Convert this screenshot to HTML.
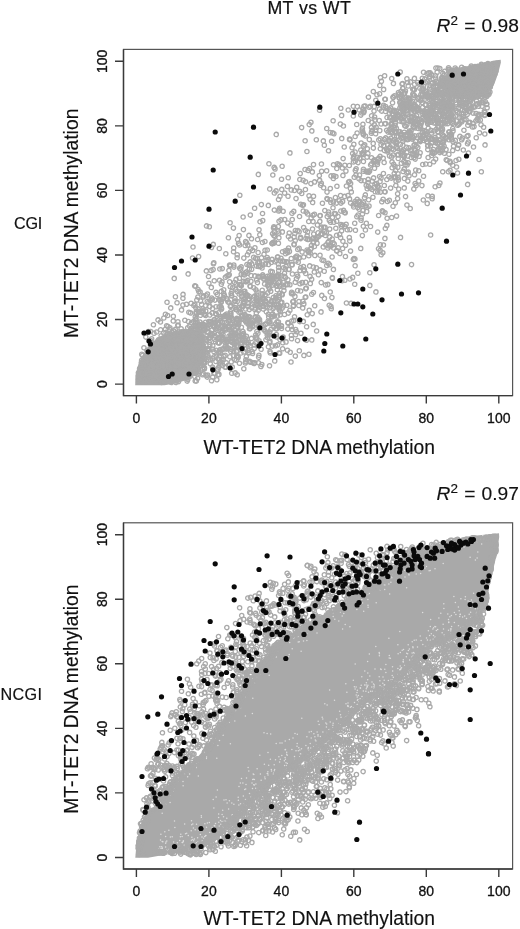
<!DOCTYPE html>
<html><head><meta charset="utf-8"><title>MT vs WT</title>
<style>
html,body{margin:0;padding:0;background:#fff}
svg{display:block;filter:blur(0.45px)}
text{font-family:"Liberation Sans",sans-serif;fill:#111}
.tk{font-size:14px;stroke:#111;stroke-width:0.3px}
.ax{font-size:19.3px;stroke:#111;stroke-width:0.15px}
.lab{font-size:16.2px;stroke:#111;stroke-width:0.2px}
.r2{font-size:19.2px;stroke:#111;stroke-width:0.15px}
.g{fill:none;stroke:none;marker-start:url(#mg);marker-mid:url(#mg);marker-end:url(#mg)}
.b{fill:none;stroke:none;marker-start:url(#mb);marker-mid:url(#mb);marker-end:url(#mb)}
.w{fill:none;stroke:none;marker-start:url(#mw);marker-mid:url(#mw);marker-end:url(#mw)}
.s{fill:#a9a9a9;stroke:none}
</style></head><body>
<svg width="520" height="929" viewBox="0 0 520 929">
<rect width="520" height="929" fill="#fff"/>
<marker id="mg" markerUnits="userSpaceOnUse" markerWidth="8" markerHeight="8" refX="4" refY="4" viewBox="0 0 8 8" overflow="visible"><circle cx="4" cy="4" r="2.15" fill="none" stroke="#a9a9a9" stroke-width="1.3"/></marker>
<marker id="mw" markerUnits="userSpaceOnUse" markerWidth="8" markerHeight="8" refX="4" refY="4" viewBox="0 0 8 8" overflow="visible"><circle cx="4" cy="4" r="0.75" fill="#dedede"/></marker>
<marker id="mb" markerUnits="userSpaceOnUse" markerWidth="8" markerHeight="8" refX="4" refY="4" viewBox="0 0 8 8" overflow="visible"><circle cx="4" cy="4" r="2.6" fill="#0a0a0a"/></marker>
<text class="lab" x="267.4" y="13.8" style="font-size:17.8px;letter-spacing:0.4px">MT vs WT</text>
<text class="r2" y="32.2"><tspan x="436.6" font-style="italic">R</tspan><tspan dy="-6.8" font-size="13.5">2</tspan><tspan x="458.96" dy="6.8"> = </tspan><tspan x="481.6">0.98</tspan></text>
<text class="r2" y="499.8"><tspan x="436.6" font-style="italic">R</tspan><tspan dy="-6.8" font-size="13.5">2</tspan><tspan x="458.96" dy="6.8"> = </tspan><tspan x="481.6">0.97</tspan></text>
<text class="lab" x="14.1" y="229" style="letter-spacing:-0.3px">CGI</text>
<text class="lab" x="0.4" y="700" style="letter-spacing:0.35px">NCGI</text>
<text class="ax" transform="translate(77.8 223.3) rotate(-90)" text-anchor="middle">MT-TET2 DNA methylation</text>
<text class="ax" transform="translate(77.8 699.2) rotate(-90)" text-anchor="middle">MT-TET2 DNA methylation</text>
<text class="ax" x="319.2" y="453.7" text-anchor="middle">WT-TET2 DNA methylation</text>
<text class="ax" x="319.3" y="925" text-anchor="middle">WT-TET2 DNA methylation</text>
<!-- top plot -->
<polygon class="s" points="135.2,385.3 135.4,375.4 138.5,363.8 142.3,356.2 147.2,348.5 152.9,341.7 158.7,336.9 166.4,333.5 176.0,331.0 189.5,329.2 199.0,331.0 203.5,338.8 207.0,348.5 203.5,360.0 199.5,367.7 193.8,375.4 184.2,380.7 174.0,383.8 164.5,385.3"/>
<polygon class="s" points="500.7,59.8 494.4,60.6 487.0,62.6 477.3,64.5 467.7,66.5 458.0,68.5 448.5,70.4 446.5,77.0 448.5,84.6 454.2,90.4 460.0,96.2 467.7,100.0 475.4,98.5 483.0,95.0 489.0,91.0 493.5,86.0 495.8,80.0 498.5,71.9 500.9,62.5"/>
<polyline class="g" points="491.8,67.3 236.8,356.1 378.5,248.7 355.0,201.5 271.2,301.7 460.6,96.6 431.5,133.1 468.4,153.0 180.4,336.7 454.4,89.6 483.3,94.6 327.2,216.6 282.6,348.8 276.0,190.9 385.6,106.6 279.7,293.3 437.0,111.2 199.2,332.6 239.1,319.9 483.6,127.2 414.7,135.7 340.9,224.5 490.1,71.5 165.4,376.3 444.1,78.4 239.8,195.2 143.1,368.5 175.6,363.7 356.8,216.7 385.0,212.7 200.1,292.0 309.0,195.7 201.8,349.8 299.8,179.5 219.3,248.5 444.3,97.6 464.2,87.0 406.6,103.0 367.2,188.7 191.4,349.5 169.5,352.6 222.1,339.3 244.8,291.3 481.9,81.5 392.5,102.7 454.8,89.9 439.3,139.9 248.1,350.2 410.6,132.6 478.7,94.0 245.0,318.0 192.5,258.1 459.2,100.5 369.3,139.6 242.6,315.7 289.2,233.0 463.6,95.3 183.8,359.3 282.1,166.3 359.9,204.8 424.1,100.0 192.7,344.8 371.5,163.8 422.6,93.9 286.2,261.9 259.6,265.2 449.9,73.6 394.4,119.2 190.8,360.1 317.4,224.9 305.9,238.6 332.2,239.1 230.2,286.7 374.1,187.4 365.4,136.0 296.8,256.0 176.9,376.3 321.0,311.9 206.0,375.2 227.3,341.3 452.1,105.3 460.8,71.5 452.6,94.5 403.5,105.6 335.5,213.8 305.8,297.0 261.3,204.6 238.5,324.9 201.6,304.4 288.9,269.4 344.6,196.4 250.3,286.5 286.0,284.7 453.9,73.4 190.8,352.9 278.2,274.2 370.2,188.1 379.6,93.8 239.9,336.5 256.7,339.1 273.9,281.7 444.0,140.8 211.6,298.1 292.8,301.8 149.9,352.3 188.8,312.2 426.2,114.4 486.3,68.7 456.4,121.0 303.9,270.9 157.6,357.4 449.4,112.7 190.4,312.9 190.5,334.1 406.3,103.5 472.9,75.7 251.6,269.3 243.4,305.2 288.1,323.3 402.6,151.9 473.4,107.1 413.7,89.4 172.4,351.6 434.7,103.2 450.8,88.6 314.8,255.4 442.3,150.9 377.3,164.5 465.1,72.9 208.1,332.4 228.0,302.0 250.3,215.1 418.1,98.7 374.5,168.2 389.4,141.8 412.7,89.2 363.4,161.4 365.4,230.0 300.0,270.4 471.0,79.0 451.4,105.9 403.1,117.7 159.2,372.5 219.7,329.1 269.7,280.3 235.5,289.4 368.0,182.5 349.5,139.6 457.5,92.2 332.4,217.5 269.5,365.7 332.5,132.9 435.6,159.1 403.8,161.4 432.8,152.9 438.1,142.7 442.9,85.9 183.0,294.4 425.5,91.0 174.9,348.0 223.6,293.3 177.1,352.8 451.1,94.0 423.5,72.3 355.2,161.3 437.0,94.7 459.3,78.0 463.6,84.4 273.5,228.0 434.0,91.9 220.4,316.6 189.8,340.0 422.3,132.2 239.1,339.0 457.5,148.4 152.0,354.4 259.7,322.1 179.5,373.4 152.5,358.0 214.7,373.4 309.2,124.6 164.4,372.2 473.7,78.0 302.4,205.3 368.1,179.4 404.7,92.9 406.9,134.4 268.2,278.3 172.8,368.0 476.8,104.2 267.3,280.1 481.7,71.0 418.9,135.3 158.3,359.0 169.8,380.9 294.9,296.4 439.7,152.6 397.8,167.3 211.0,270.4 311.7,294.3 204.4,359.0 160.9,368.0 232.2,367.0 456.7,93.3 368.4,97.1 490.7,74.9 434.7,92.2 465.0,83.3 333.4,202.0 275.6,328.7 404.7,125.8 422.3,135.8 343.4,126.0 308.9,354.3 437.8,122.9 212.6,308.4 173.3,316.2 370.5,226.5 323.6,187.8 196.9,339.3 465.9,108.3 313.4,267.1 170.9,351.6 325.3,235.4 296.0,198.6 418.3,108.6 236.6,309.8 367.9,153.6 467.8,125.2 456.7,78.7 423.4,88.8 398.7,189.0 300.6,291.0 173.2,365.6 196.0,351.8 464.7,68.9 226.9,342.3 237.6,327.6 163.5,355.2 330.8,202.5 182.9,298.2 454.2,94.5 431.2,110.9 200.9,343.6 195.0,333.3 187.2,344.6 399.4,94.0 244.9,314.5 483.9,92.3 448.6,94.8 166.6,325.7 331.2,245.7 246.9,294.7 194.7,371.4 292.4,274.0 287.6,252.4 270.7,291.2 390.9,123.9 177.3,344.6 313.3,242.6 326.6,170.8 426.0,116.4 451.8,139.8 250.1,261.9 455.7,90.6 435.5,75.8 243.7,351.9 364.5,197.8 280.9,219.9 434.9,104.8 449.1,92.1 217.9,369.7 402.6,83.6 342.6,248.5 434.6,152.6 430.5,122.3 192.7,336.0 211.4,247.4 231.7,335.5 178.2,347.4 263.3,306.5 395.3,133.0 459.9,80.6 443.1,85.9 478.1,80.7 249.3,269.1 426.1,139.2 173.2,320.9 453.3,76.4 165.9,346.1 374.9,119.9 401.2,108.1 177.8,325.2 363.4,154.4 306.3,340.2 470.0,108.6 452.8,98.9 268.9,163.7 377.7,232.1 417.3,98.0 278.5,199.5 442.8,83.1 175.2,346.3 282.4,337.7 237.0,326.7 437.8,131.6 153.4,324.7 375.9,291.9 447.4,108.7 393.4,149.8 291.9,213.3 158.1,354.4 385.6,137.9 165.2,339.4 432.3,138.7 200.9,325.2 281.1,275.9 459.0,99.4 200.9,345.3 234.3,343.3 414.9,127.9 359.5,175.1 163.4,365.3 309.2,310.2 467.2,69.1 380.0,156.4 206.5,225.9 340.3,124.1 194.0,338.9 440.8,82.8 206.9,335.5 268.3,299.2 150.6,331.5 195.7,286.3 415.6,124.1 346.4,303.0 262.0,296.1 459.5,123.6 277.0,321.7 413.4,106.7 293.2,306.3 394.8,111.4 362.7,131.8 231.8,318.0 212.4,334.3 485.5,67.0 399.5,120.9 179.8,349.2 389.6,129.6 421.9,91.8 409.3,131.1 262.3,293.9 373.2,143.4 150.6,373.7 250.9,281.3 363.9,106.3 378.7,140.1 249.2,309.6 246.5,242.7 207.1,328.8 248.9,353.0 196.7,362.1 265.2,294.7 375.2,191.7 180.8,341.1 283.9,290.4 475.6,94.6 289.0,269.3 278.3,226.6 462.0,116.8 259.4,261.8 241.3,343.8 485.1,88.2 413.3,95.0 202.8,324.4 293.7,320.4 481.3,171.7 469.3,105.7 441.8,110.2 472.8,113.1 210.4,322.8 288.0,196.2 269.7,333.1 405.1,164.8 450.6,133.9 374.5,159.8 385.6,123.6 431.8,83.6 208.8,321.5 263.3,276.8 465.5,112.4 254.2,348.6 195.2,316.7 203.2,296.9 462.6,74.7 178.3,380.0 143.9,347.8 452.0,86.0 293.6,305.4 342.7,225.1 271.4,316.8 336.7,251.1 406.6,147.3 381.0,177.9 279.2,310.0 199.5,324.9 419.7,140.4 475.8,121.0 203.5,295.9 314.3,272.0 445.0,111.0 401.3,163.2 486.6,96.3 462.4,109.8 168.8,361.9 259.0,229.8 327.0,192.1 207.4,294.1 342.6,201.4 406.9,205.1 395.0,166.5 419.1,156.3 438.1,131.7 278.9,237.7 160.6,329.7 416.1,185.4 236.5,322.2 402.7,110.8 277.3,276.5 358.4,201.8 173.6,358.1 411.3,117.4 400.5,144.3 408.2,139.2 488.0,93.5 247.2,295.4 160.2,369.7 252.1,351.6 371.3,133.2 223.7,289.8 203.3,351.7 241.3,316.8 248.5,299.1 404.2,187.9 295.6,329.6 403.9,113.4 430.0,112.8 184.9,361.5 278.4,264.0 275.0,168.9 299.3,350.8 245.2,362.9 333.7,175.7 383.5,105.2 450.7,106.8 425.8,120.0 299.5,216.5 277.2,275.5 233.4,228.1 228.2,275.6 488.6,91.6 259.0,340.7 312.3,171.9 311.0,248.6 446.2,107.1 254.9,320.6 333.0,242.8 457.4,95.2 431.7,96.4 380.3,148.8 387.1,218.2 449.1,117.6 437.3,90.3 374.2,106.4 482.7,79.5 210.5,300.4 280.8,302.6 380.3,244.7 179.7,345.5 362.9,124.2 321.2,282.6 398.1,177.4 333.9,133.8 310.3,283.4 443.2,142.2 408.2,132.7 164.9,356.7 473.0,89.6 194.5,373.3 413.9,154.8 188.6,341.0 348.6,182.0 446.2,159.7 413.4,137.8 363.6,202.8 368.6,199.7 473.4,93.0 273.9,307.1 465.8,99.7 230.3,341.3 236.0,284.1 397.4,154.8 283.1,211.2 349.7,139.1 261.1,349.2 252.2,320.6 431.2,139.1 169.6,365.7 202.4,330.8 141.4,377.8 459.4,112.9 361.1,143.0 428.6,72.9 484.8,93.9 452.2,101.5 167.0,302.2 327.9,242.6 359.9,157.9 233.8,267.1 167.6,315.5 391.7,78.5 386.6,130.3 441.1,142.1 357.3,157.2 197.6,378.2 158.3,370.2 398.8,131.6 316.5,238.7 452.5,82.3 246.4,336.3 445.3,137.6 397.5,148.6 441.9,113.5 489.7,75.2 433.6,97.9 203.6,324.6 419.0,97.3 250.1,328.4 225.8,253.8 445.1,84.4 383.6,89.4 445.4,79.0 320.0,255.2 449.8,100.9 426.2,134.0 476.5,101.0 331.2,308.8 354.7,284.3 198.3,331.4 457.3,95.0 449.9,161.3 188.2,340.6 396.2,118.4 324.2,271.2 255.6,317.4 209.1,349.9 337.4,163.8 414.3,111.4 292.0,265.0 425.7,104.9 166.0,332.4 212.1,312.9 432.3,152.2 396.0,131.4 393.4,83.4 464.1,119.5 154.4,378.0 200.7,342.1 209.2,342.2 452.0,97.0 229.0,326.4 391.4,156.9 236.6,319.6 442.0,77.2 340.5,195.6 304.4,269.8 469.8,68.4 460.5,83.6 232.1,341.2 319.8,221.4 278.1,231.1 313.0,221.6 307.6,239.4 471.3,67.2 402.8,141.3 384.2,139.4 230.8,305.4 245.1,245.4 466.0,73.8 207.2,301.5 440.7,129.0 252.6,250.4 433.6,149.5 410.3,110.0 215.7,313.6 171.8,350.2 452.9,107.2 458.6,144.9 314.7,305.7 303.2,211.0 169.4,367.1 215.9,306.7 272.3,271.9 247.8,306.4 456.3,90.2 166.2,354.8 206.2,352.8 248.9,235.4 248.2,342.6 383.4,245.0 272.6,233.8 274.4,315.9 187.8,373.3 225.8,329.9 202.8,356.8 246.3,356.6 328.9,245.9 327.9,247.9 377.7,191.9 412.7,101.3 282.2,307.9 249.4,299.1 235.1,307.6 240.5,343.5 222.6,339.3 295.2,240.5 394.5,95.8 188.1,273.9 246.7,296.0 243.7,335.1 395.3,202.8 231.9,342.6 466.4,104.4 179.0,360.6 269.1,282.0 421.0,123.5 447.1,119.6 415.0,155.2 189.8,357.7 241.7,296.6 476.2,137.7 176.0,368.7 376.1,127.2 477.1,119.2 188.5,368.7 464.8,79.3 335.8,228.3 392.1,120.1 395.3,116.5 219.3,342.7 390.6,117.4 159.8,357.7 192.8,354.8 276.6,325.5 458.4,145.0 408.7,107.4 280.0,339.8 459.6,96.5 151.6,338.8 482.0,106.2 221.3,284.3 227.8,316.3 315.0,238.9 418.4,122.5 459.0,92.4 445.3,117.0 270.7,271.4 230.6,335.7 220.6,353.1 205.7,311.1 181.4,354.9 279.9,281.3 424.8,78.9 334.3,213.6 369.0,206.1 254.7,296.1 378.6,215.5 297.6,290.6 210.6,359.8 187.5,334.4 207.8,349.6 466.0,119.6 233.7,248.0 409.9,133.7 377.7,161.7 232.8,322.8 221.0,302.5 212.9,369.0 429.5,99.5 174.8,342.2 217.2,294.5 455.6,88.6 405.2,134.7 384.6,75.8 290.5,239.0 219.8,318.6 437.4,85.9 308.3,251.8 289.4,251.4 484.9,95.2 428.1,157.5 265.3,324.4 353.4,162.0 405.1,104.8 270.3,353.0 299.6,191.4 353.7,207.0 249.5,361.4 177.9,359.9 171.0,339.6 181.3,331.9 445.2,107.3 181.1,328.8 404.3,132.2 436.1,104.4 217.9,375.0 223.0,349.0 393.1,97.6 336.3,203.1 254.6,208.3 229.3,329.2 305.2,297.3 457.0,91.7 357.4,106.6 438.2,136.2 274.1,278.5 183.6,346.7 260.1,325.7 295.3,356.1 367.3,148.7 214.0,320.1 433.1,106.4 435.5,94.7 225.9,348.9 373.5,160.9 195.5,319.8 194.7,285.9 202.2,359.1 182.9,363.7 213.5,326.4 339.5,165.0 160.2,361.1 430.3,111.5 333.5,248.0 316.3,267.8 219.3,362.7 309.0,239.3 242.0,319.1 242.9,331.5 322.0,260.1 193.8,305.6 447.8,109.6 400.9,152.9 435.5,106.0 198.6,256.6 198.6,371.4 474.7,107.0 211.5,380.7 438.6,122.5 450.2,100.4 450.6,115.2 161.0,362.9 247.8,273.2 328.5,150.7 225.1,367.2 472.3,126.9 234.9,298.5 277.4,276.7 448.8,132.1 200.6,301.1 451.8,86.9 242.2,340.5 403.6,108.2 420.5,139.8 165.4,314.3 477.9,115.0 485.2,101.6 414.0,145.0 472.6,94.8 467.6,86.8 258.3,319.2 244.0,302.6 447.5,121.1 349.5,198.9 427.7,116.1 197.4,327.4 236.0,279.4 307.0,250.1 186.9,361.9 188.9,376.1 388.5,140.3 391.8,123.4 418.7,181.1 154.1,371.9 329.2,305.2 440.2,151.1 355.2,203.6 375.6,133.8 330.7,245.9 363.7,112.4 313.5,238.3 146.6,360.8 448.2,102.3 237.9,332.7 433.6,161.8 250.1,321.6 420.1,141.6 475.6,70.4 406.8,99.6 229.8,356.8 403.1,134.9 363.5,152.1 455.3,116.1 442.9,147.8 284.7,219.6 239.5,309.7 214.7,322.4 414.5,174.8 189.5,367.7 381.1,254.8 307.6,213.9 160.3,349.0 281.8,302.3 231.9,337.7 451.7,114.6 235.8,333.3 431.5,155.5 223.9,356.6 386.7,149.7 405.4,91.0 245.6,309.0 235.9,305.3 253.9,344.9 465.5,90.2 452.5,97.4 225.3,277.3 196.1,318.5 376.9,94.8 434.0,153.1 311.7,339.9 293.5,301.3 241.7,344.7 413.9,157.4 408.2,172.1 385.3,99.3 221.4,308.9 423.5,176.2 245.1,293.6 328.7,241.4 421.9,99.2 177.0,356.2 196.2,332.8 197.9,297.1 442.6,95.2 157.1,356.5 236.7,318.4 403.8,93.6 463.3,75.7 193.2,337.5 400.5,237.4 450.2,89.6 204.6,338.0 418.7,108.9 303.9,355.4 456.2,110.4 233.4,326.7 218.1,337.8 404.2,169.0 203.7,362.5 463.3,150.0 393.9,111.4 215.9,292.4 233.7,355.4 422.4,102.5 270.9,329.5 289.9,284.7 197.9,335.9 458.6,124.4 381.5,111.1 374.9,184.0 311.4,245.4 318.4,274.8 274.4,305.1 450.5,76.4 295.3,230.5 221.9,316.7 437.8,91.5 470.1,87.6 248.8,325.0 373.3,91.6 208.9,337.8 241.2,274.3 489.4,64.9 324.7,231.5 438.7,185.5 267.2,257.6 182.0,337.5 429.4,114.5 188.3,365.9 235.2,301.1 320.0,215.7 437.0,95.6 205.5,322.3 442.7,111.1 446.0,90.7 414.8,144.4 252.1,362.5 259.5,319.6 478.1,120.3 489.4,68.4 263.8,278.7 475.8,95.3 464.6,86.5 427.2,141.6 356.7,124.5 287.9,322.6 411.5,264.6 193.8,337.4 469.9,87.2 440.4,110.6 210.8,333.4 249.2,296.2 313.5,164.6 484.4,77.2 457.5,173.0 205.6,338.9 306.9,151.5 302.7,307.9 267.4,285.3 226.2,362.8 481.0,124.7 420.1,152.8 165.5,370.3 174.2,369.8 298.2,262.3 218.6,367.2 442.9,106.6 437.5,92.3 395.8,185.4 237.1,291.4 479.6,94.5 426.7,108.8 178.5,360.9 416.5,115.8 215.9,361.4 340.8,108.3 257.8,262.7 481.8,77.3 408.5,103.7 375.4,130.1 277.8,257.1 489.9,92.1 443.0,80.5 393.6,140.9 292.0,329.4 234.4,325.7 251.7,307.8 221.7,326.8 181.5,367.1 413.8,188.9 455.1,68.0 161.9,376.9 256.6,280.0 187.1,381.1 300.7,204.3 182.5,376.5 279.6,208.3 428.1,122.3 264.6,284.0 230.6,311.7 384.8,99.2 388.0,132.1 430.1,105.0 231.7,373.3 332.4,278.2 236.4,351.1 480.2,84.5 215.3,341.4 237.0,355.9 327.0,198.5 257.4,282.6 285.5,253.7 154.7,362.4 281.3,325.8 427.0,93.9 254.8,275.9 442.0,100.8 401.2,138.1 484.8,134.0 439.8,68.6 250.5,249.0 390.6,188.1 341.4,226.4 220.6,321.1 189.4,369.9 347.2,229.7 333.1,120.8 317.0,243.2 221.1,299.5 172.0,354.7 301.7,193.5 212.8,345.8 262.7,265.0 479.5,132.7 148.1,352.8 274.7,284.1 436.3,109.4 349.8,139.8 276.6,286.1 221.5,308.7 423.3,200.0 312.5,229.0 425.8,96.0 372.4,181.2 467.7,101.9 191.0,303.2 219.0,352.4 472.1,94.0 174.2,351.5 441.0,97.5 229.6,281.8 267.5,337.8 240.9,353.0 353.6,158.1 435.6,86.2 272.0,314.7 377.5,185.9 241.4,327.3 293.7,211.4 362.4,128.3 278.6,282.6 378.5,159.0 166.7,361.3 276.7,328.8 426.9,120.7 296.4,257.8 435.1,90.5 234.6,301.2 476.4,90.9 416.0,118.8 170.6,353.3 152.7,356.5 234.4,282.6 241.6,335.1 200.4,365.0 461.9,89.8 349.3,237.6 481.3,97.1 164.3,340.8 222.2,268.6 436.0,129.4 161.1,374.5 415.1,150.0 230.6,265.5 366.1,171.4 434.2,115.1 426.9,81.2 311.1,217.9 195.4,325.2 488.5,74.8 413.2,126.3 212.5,358.5 214.0,322.0 432.2,142.5 419.8,88.3 262.9,297.7 473.9,95.5 213.1,269.6 410.7,108.4 435.8,97.4 178.5,358.5 187.0,340.6 146.8,371.7 177.0,302.8 414.1,104.5 490.3,87.0 459.9,117.5 273.9,327.0 227.5,339.5 203.8,329.9 281.9,285.0 442.5,129.8 187.5,356.8 477.7,96.3 363.4,134.7 324.3,145.2 408.3,109.3 291.2,189.9 452.1,109.1 191.0,340.6 444.5,122.6 394.8,131.7 472.9,80.1 319.5,110.3 233.5,251.8 165.9,349.0 259.0,262.5 438.7,127.4 198.7,373.1 394.9,142.5 272.9,276.2 455.2,83.5 378.4,158.4 421.3,84.2 312.9,215.2 272.5,285.1 481.2,75.9 478.9,114.4 352.6,153.5 443.9,116.4 471.6,85.3 461.4,79.8 396.7,136.2 245.4,349.0 182.9,305.0 314.5,181.9 283.5,267.7 287.6,262.0 371.5,157.8 321.4,164.0 473.5,147.0 254.9,247.7 476.7,73.0 140.3,373.0 148.3,331.5 168.0,364.7 173.7,341.1 214.3,333.3 153.9,333.3 379.4,108.9 179.3,342.8 444.4,111.0 462.5,96.7 213.8,262.7 398.4,154.8 400.2,72.1 423.5,86.2 402.7,115.6 295.6,334.8 281.9,294.0 407.5,139.6 151.7,342.7 279.7,286.2 173.5,376.3 185.1,372.4 486.0,92.1 290.2,352.2 193.6,358.9 265.9,339.7 362.5,214.0 296.8,274.3 267.4,276.3 369.8,285.4 444.0,75.1 422.7,164.5 441.4,92.4 246.4,342.7 287.3,250.4 350.5,251.1 229.0,327.5 387.7,144.8 404.0,156.4 417.0,111.1 289.9,310.3 429.4,114.4 215.7,322.2 333.0,207.8 412.8,94.0 464.8,93.2 448.2,84.6 476.0,113.5 450.3,162.8 176.6,355.8 404.7,155.3 194.6,369.3 198.0,289.6 410.6,121.5 450.7,116.6 184.7,371.9 444.3,80.4 447.5,92.0 240.7,269.2 242.0,299.0 479.4,95.5 231.2,349.5 433.1,113.4 438.5,123.4 402.8,88.6 267.1,332.8 229.6,265.1 453.5,146.2 364.7,144.9 459.9,88.4 363.3,171.2 148.1,376.0 355.3,170.4 464.9,107.4 185.9,364.8 175.8,380.9 267.5,292.9 265.4,263.9 141.7,354.2 474.7,94.9 299.1,231.8 467.4,94.9 277.4,316.1 324.8,210.6 442.2,113.9 467.5,143.8 395.1,125.2 269.8,307.7 325.6,284.9 228.2,321.2 414.0,127.1 446.8,86.3 360.8,150.1 238.5,243.4 414.4,95.5 214.2,280.7 308.8,255.7 220.0,331.4 453.0,130.9 454.3,82.5 349.9,229.6 296.4,278.7 400.4,118.0 218.8,338.2 209.3,226.8 274.1,300.6 210.3,363.7 392.0,161.9 171.7,373.7 408.6,98.5 204.1,314.1 278.6,267.4 205.5,315.4 236.7,351.6 233.1,320.0 262.7,305.9 435.1,186.8 307.5,231.9 195.6,328.5 245.6,321.5 427.3,117.8 208.8,324.5 474.6,81.6 264.0,279.2 267.2,335.1 457.0,89.0 465.5,102.4 451.5,134.5 330.2,292.0 379.8,130.6 446.2,138.2 448.9,154.2 328.2,263.2 241.6,292.8 440.0,110.8 206.8,340.6 243.8,291.5 265.1,331.2 254.8,309.6 483.5,75.8 404.5,116.6 411.7,149.5 309.6,265.9 411.1,130.8 434.3,139.8 334.2,244.1 208.5,276.5 151.9,365.0 209.3,306.4 194.6,353.5 333.4,269.4 279.8,306.4 461.9,80.2 258.3,174.4 393.6,164.2 485.5,80.6 463.2,116.5 344.8,280.2 197.8,361.1 191.1,330.8 200.7,339.2 170.4,350.6 429.8,76.5 385.3,228.5 203.0,308.7 298.9,301.5 338.8,164.5 361.0,220.2 373.5,177.9 225.1,355.2 225.8,328.5 382.8,252.7 193.5,321.4 230.8,316.1 437.8,127.1 272.3,316.7 215.2,336.3 437.1,119.8 281.5,179.2 196.3,342.7 303.8,303.9 250.2,362.2 249.4,323.2 217.9,324.3 197.0,371.1 194.8,304.2 484.9,112.4 239.6,268.3 282.2,294.8 428.9,95.0 239.0,322.4 178.5,363.1 188.0,353.5 425.6,104.5 162.5,381.4 222.0,281.9 420.7,100.4 159.4,365.1 239.1,293.9 225.3,315.1 468.0,135.6 231.5,295.2 441.3,107.5 342.4,276.6 168.9,352.9 346.1,224.2 373.8,160.4 427.6,123.8 403.1,121.8 480.9,96.2 355.1,265.7 285.5,277.6 451.3,74.3 231.0,331.4 240.8,285.1 296.4,331.7 237.2,374.7 446.0,82.0 385.5,111.4 399.1,98.1 452.7,89.7 415.1,183.6 239.5,287.8 268.3,205.4 242.4,335.1 437.6,82.8 468.1,72.9 487.3,77.3 380.5,77.6 435.1,137.4 223.4,348.7 279.2,297.5 383.1,211.8 470.3,73.5 263.3,299.1 465.3,107.8 325.0,227.4 174.6,354.0 219.8,269.0 310.1,199.2 158.0,319.9 258.1,252.5 200.1,365.8 316.3,139.8 468.8,92.5 479.5,89.9 278.7,270.4 265.8,304.7 431.4,142.9 162.5,365.6 360.7,115.1 278.4,243.2 288.5,248.0 266.1,260.2 450.0,170.3 437.3,104.0 152.0,351.2 223.0,334.6 294.0,244.7 201.1,362.9 320.2,215.5 219.2,307.0 222.2,365.4 460.1,95.5 248.8,252.0 300.5,237.3 376.5,163.0 345.5,245.3 268.0,259.6 464.6,87.0 175.4,296.7 152.0,364.5 243.3,274.2 256.1,337.0 202.0,355.8 399.5,98.1 175.4,358.7 313.7,234.1 474.0,126.6 430.0,72.7 402.8,88.3 440.6,146.0 407.6,82.5 173.2,345.1 426.4,109.4 239.5,245.0 197.9,343.3 200.8,338.8 251.7,263.9 423.0,112.2 485.1,94.6 156.5,369.7 204.8,325.6 236.8,338.8 168.4,365.3 456.0,160.5 449.5,99.5 459.7,102.6 300.8,267.5 218.9,374.4 162.4,372.7 237.9,320.1 260.6,301.8 390.2,132.1 346.4,186.0 279.1,299.5 162.5,364.9 235.9,341.4 200.9,342.2 245.1,315.7 268.6,287.0 323.7,260.6 228.9,270.5 201.0,325.4 401.3,118.5 451.7,115.8 221.2,291.4 209.9,344.6 214.3,339.3 441.6,99.0 172.1,377.8 436.0,114.2 278.4,322.1 435.7,123.2 148.0,358.5 189.0,350.8 442.8,142.3 185.3,342.7 224.2,315.9 198.8,348.8 256.4,266.1 456.7,89.4 394.6,139.5 416.7,109.4 444.9,94.6 262.0,298.8 320.1,269.9 271.9,300.6 452.9,110.0 195.2,380.9 454.4,85.2 343.5,210.4 195.2,337.9 406.0,114.0 239.1,235.5 321.6,171.2 234.1,348.2 222.1,322.1 259.8,234.7 202.1,350.0 489.3,82.1 303.6,227.6 481.7,87.4 465.8,93.2 279.0,221.3 399.7,112.3 227.0,348.8 195.4,348.4 239.8,284.6 444.8,105.0 273.3,297.5 260.4,266.4 214.4,319.6 206.1,354.3 381.0,144.6 362.1,130.0 427.7,123.6 274.5,241.7 229.2,274.7 432.4,102.3 363.4,169.2 150.4,340.3 474.0,85.4 172.0,332.3 432.1,198.7 236.1,341.8 140.2,370.5 206.3,295.7 195.2,341.1 276.5,260.4 384.5,191.7 294.5,316.7 404.2,156.5 192.9,347.1 228.8,348.3 297.7,249.4 430.6,235.0 214.5,326.9 188.8,359.2 383.1,199.3 283.2,282.3 290.8,225.0 207.7,332.0 243.1,303.2 172.7,352.6 258.6,320.3 390.0,146.9 429.8,97.8 440.5,120.6 428.0,145.5 207.8,355.1 178.5,345.1 239.3,307.5 214.0,356.8 206.0,326.5 216.3,314.4 312.2,313.6 154.3,363.5 288.4,236.5 239.4,363.3 351.0,303.4 303.4,204.7 310.9,248.6 383.3,107.1 220.3,364.3 189.0,365.5 179.0,338.3 300.5,238.6 265.5,301.1 442.4,85.7 429.5,78.0 236.2,360.2 196.0,313.4 366.9,207.3 208.6,359.8 487.3,93.7 492.5,77.5 189.3,356.2 248.5,317.1 195.6,357.9 212.0,330.0 417.0,123.8 486.0,74.7 410.1,107.9 256.5,297.8 237.6,239.6 184.1,339.1 152.5,366.6 409.0,121.2 427.1,115.2 381.4,81.3 387.7,150.6 210.2,335.8 371.4,127.4 252.6,325.3 264.4,303.8 208.3,349.9 365.1,106.1 488.1,64.8 336.6,235.3 170.7,353.3 487.0,87.4 272.9,242.6 364.3,180.7 428.6,136.8 475.7,81.1 264.0,254.3 329.7,244.8 325.8,245.1 194.8,328.5 429.1,105.6 292.0,264.4 163.2,340.4 464.5,95.9 426.8,142.0 486.4,104.5 391.3,127.0 442.6,78.6 187.1,354.1 143.5,361.0 371.6,115.8 310.9,122.2 264.9,241.5 490.2,71.0 476.8,68.2 445.4,78.0 397.8,116.0 447.2,89.2 425.6,82.7 217.9,342.7 219.1,351.0 308.7,221.5 440.8,104.4 427.8,149.6 208.9,283.2 165.1,346.0 353.2,205.0 222.2,349.3 442.8,73.3 462.6,103.2 263.2,325.3 453.2,75.4 224.0,295.3 436.0,99.6 256.4,303.7 456.5,167.0 483.6,94.0 471.3,80.3 447.4,83.3 407.8,181.1 420.9,94.4 432.5,82.6 199.3,361.7 353.3,106.2 177.0,363.7 243.4,333.5 435.6,142.7 231.8,328.2 430.9,89.5 203.4,325.0 459.5,99.6 287.4,186.4 485.6,76.9 448.4,69.6 312.6,202.4 196.4,346.1 442.3,128.6 414.4,117.3 432.9,120.3 394.6,177.0 469.0,111.4 259.2,304.8 345.4,256.5 434.2,106.8 274.9,227.7 444.7,86.1 386.8,179.5 243.4,229.6 257.9,333.2 250.3,345.7 407.5,104.3 488.6,73.9 284.6,193.1 251.0,275.6 471.7,106.9 165.2,366.7 207.7,375.1 457.2,112.2 462.3,138.1 164.0,356.0 332.1,257.0 424.5,113.0 313.4,292.5 394.2,110.3 194.5,347.7 484.2,86.9 234.8,323.8 486.1,76.0 440.8,109.3 191.4,322.7 258.4,362.7 476.1,89.8 155.8,348.2 444.4,101.8 437.2,90.7 246.3,295.7 247.5,280.4 338.2,247.7 195.0,326.4 297.5,340.6 474.6,85.5 220.8,361.6 320.6,185.3 314.4,214.3 211.3,287.4 160.9,361.8 422.4,111.3 283.6,306.0 177.9,321.8 245.8,338.7 267.2,250.0 396.4,143.0 157.9,343.8 391.7,217.5 276.4,304.3 407.0,165.0 251.9,304.0 249.4,328.8 248.4,298.6 305.4,189.5 291.7,321.1 366.3,223.2 241.8,338.1 451.6,106.9 476.0,70.9 335.9,176.5 161.5,370.0 275.4,324.1 331.6,141.2 340.8,203.1 457.3,94.7 419.6,119.4 402.9,145.3 151.6,369.3 202.8,358.3 470.2,97.0 173.8,353.3 255.6,335.0 161.4,358.6 409.6,99.9 433.1,117.7 188.8,360.5 462.0,89.6 165.4,329.3 458.3,107.8 259.3,307.3 430.6,118.0 444.0,100.4 423.7,136.1 432.6,151.7 201.4,336.0 452.8,84.4 221.9,337.7 362.7,153.4 272.0,259.4 412.1,108.8 448.6,105.3 362.0,153.4 447.8,89.4 256.7,337.5 287.4,350.3 278.5,325.1 494.7,71.9 222.7,322.5 225.9,342.9 442.3,80.2 401.5,104.8 444.3,153.3 294.8,233.4 167.9,326.6 427.9,97.3 246.6,323.1 457.6,79.7 218.1,359.0 255.8,289.7 445.3,86.3 423.0,140.5 163.8,318.0 461.9,93.4 471.9,79.3 291.5,293.8 362.6,204.6 355.9,174.9 319.6,180.4 267.3,306.8 330.5,222.3 437.9,68.1 221.8,331.9 390.6,107.9 184.8,320.2 306.2,212.1 204.6,363.1 448.7,139.8 276.8,286.2 426.0,133.9 230.3,306.6 213.4,263.8 176.8,350.9 400.7,96.5 415.1,159.1 430.9,111.9 417.9,110.2 323.3,140.9 405.8,126.3 461.4,105.3 196.1,353.0 452.3,106.8 423.9,134.9 257.0,319.4 235.1,372.9 286.8,305.2 250.6,324.3 484.9,114.7 242.4,315.5 420.6,125.4 278.1,307.4 472.2,73.5 173.7,368.9 355.1,152.1 391.1,178.1 198.9,311.5 396.0,181.3 353.3,259.4 419.5,84.3 145.8,337.1 306.2,288.0 184.5,377.3 160.4,322.0 181.4,347.1 408.1,162.8 205.4,305.7 181.6,337.4 401.0,134.2 307.1,235.8 425.1,93.1 161.0,348.5 453.8,94.5 456.1,94.0 176.7,367.9 349.4,181.6 197.1,322.2 326.7,265.4 202.6,359.4 212.3,299.2 430.1,85.7 225.6,340.0 330.2,132.6 237.2,254.8 448.2,111.7 344.8,165.3 219.4,356.0 228.2,365.2 195.7,307.5 354.0,258.5 397.2,116.5 261.3,303.7 399.8,102.5 306.6,326.7 438.1,121.9 383.2,158.3 196.3,381.0 433.9,131.0 478.5,106.2 409.0,175.8 439.4,114.8 198.5,324.3 305.7,282.3 190.5,331.6 448.9,85.7 250.1,326.7 443.6,91.7 321.3,183.4 238.6,335.5 269.5,288.7 278.5,210.9 172.0,360.1 452.4,123.5 169.3,333.7 273.1,308.4 393.1,155.1 350.6,203.1 435.6,78.0 295.9,260.9 258.1,276.4 286.0,341.9 336.6,250.6 366.2,185.4 147.3,350.0 216.8,379.7 436.4,139.8 240.7,346.9 342.9,175.4 198.5,357.7 448.2,106.3 475.0,85.5 453.2,84.3 402.0,121.7 424.4,138.6 411.9,139.1 160.4,346.4 204.0,343.1 381.1,124.0 245.0,320.4 241.3,285.7 424.4,119.4 243.6,319.5 411.2,157.4 203.4,362.3 454.3,86.6 432.0,110.2 220.1,338.6 193.4,365.3 430.6,109.2 442.4,123.2 436.6,120.8 246.3,281.7 224.3,325.7 327.8,284.4 441.5,131.0 402.8,100.5 321.1,228.1 218.8,352.8 458.8,159.3 236.7,346.7 223.2,298.2 484.6,89.5 452.7,165.2 222.8,326.1 449.2,97.1 361.1,218.1 408.9,147.7 274.7,236.2 226.5,322.3 232.5,287.7 200.6,359.0 467.9,96.2 344.9,226.6 277.3,300.9 278.7,282.3 303.1,180.2 291.6,292.3 368.2,120.5 189.7,366.5 252.7,323.1 402.5,106.9 446.0,149.6 278.7,276.4 366.7,211.4 413.3,126.7 311.6,279.2 449.6,134.9 224.4,295.6 195.3,322.2 396.5,216.1 456.1,106.8 329.3,220.4 289.9,152.9 274.3,192.9 191.7,342.4 398.4,92.5 330.3,188.6 424.7,130.7 448.5,69.6 203.8,329.5 372.3,130.2 481.5,78.0 185.7,348.0 248.6,316.6 412.8,122.2 256.7,300.2 248.9,352.3 179.8,336.8 452.7,150.4 427.8,121.8 363.3,226.3 195.2,344.1 427.0,73.5 244.1,301.5 245.2,272.8 427.9,116.6 257.7,305.6 379.5,176.5 139.6,368.8 341.6,115.4 441.3,78.7 191.6,368.4 169.4,361.8 310.2,253.0 302.1,251.9 456.3,99.1 396.0,146.9 199.1,366.0 217.6,334.4 235.8,333.8 258.9,355.2 422.3,78.3 259.7,300.0 237.1,257.8 174.2,278.4 402.0,84.1 467.6,184.4 187.1,378.0 302.1,282.5 382.2,210.9 225.2,327.9 212.4,367.1 449.5,131.7 138.6,379.5 457.9,96.4 332.3,277.6 401.6,98.3 461.8,105.9 405.8,106.8 491.9,81.7 223.4,359.4 178.5,345.1 412.0,116.8 202.7,350.3 216.3,350.2 447.7,123.6 199.9,322.0 427.2,81.2 203.4,354.1 453.0,141.7 226.9,276.0 230.6,324.1 279.5,209.9 379.2,120.6 243.1,217.0 239.0,312.2 421.2,138.1 199.5,339.0 357.8,273.3 319.3,175.5 418.1,128.4 396.7,147.5 358.9,178.7 392.3,114.1 253.7,287.8 441.0,122.9 210.1,321.8 489.6,79.2 406.9,124.4 343.1,158.6 441.0,85.6 207.6,327.5 269.9,321.6 284.5,314.5 198.0,333.7 231.8,291.2 336.8,168.5 183.4,374.1 287.7,223.1 211.6,335.2 175.2,329.4 291.2,258.5 369.0,107.2 294.4,190.5 344.4,212.6 202.6,358.1 257.2,319.0 237.7,356.9 472.5,70.1 244.8,344.5 210.1,337.4 362.9,210.4 436.6,117.0 457.8,91.5 361.8,204.6 480.5,72.9 396.9,142.3 438.0,91.2 224.6,342.1 256.3,312.9 209.8,321.6 438.4,92.6 198.0,331.4 226.4,316.5 450.3,88.9 472.1,83.9 231.1,293.5 374.0,264.8 458.5,90.3 262.5,213.5 258.2,310.3 221.9,359.8 359.6,158.5 179.1,349.6 282.3,231.9 185.8,359.9 389.5,113.2 240.6,312.0 242.9,306.6 260.0,221.8 207.1,377.1 342.3,168.0 203.1,310.8 376.6,183.6 464.4,110.4 402.5,155.5 238.3,324.2 182.7,357.5 449.8,79.7 198.1,308.9 487.1,107.8 470.5,86.3 198.7,291.6 233.8,265.1 234.5,343.2 335.4,197.5 340.6,237.7 184.8,372.4 470.1,69.9 249.4,322.8 272.2,243.6 409.8,98.3 450.9,122.4 410.5,81.9 281.4,326.1 234.7,346.6 200.2,333.6 487.1,69.5 204.8,327.0 213.2,244.4 202.1,332.5 269.1,335.0 427.7,146.0 461.1,90.4 256.9,331.2 425.6,115.1 491.4,80.1 429.1,138.4 442.6,134.9 244.9,340.9 140.1,381.0 225.0,346.5 184.1,362.4 415.2,111.6 326.4,232.7 142.4,373.9 363.1,133.6 435.9,90.5 475.8,75.9 398.2,158.5 247.4,254.8 442.4,103.2 456.2,70.7 406.2,97.8 409.0,116.7 250.4,323.9 167.6,362.8 262.6,274.9 281.7,189.4 275.9,295.8 182.1,365.9 462.2,93.2 201.8,311.2 443.2,115.9 395.5,177.0 486.6,85.4 258.8,277.0 268.4,346.7 204.4,330.2 277.3,289.8 451.2,102.1 370.6,165.1 382.7,142.5 198.3,356.0 412.9,137.8 384.9,238.4 276.2,134.4 429.7,164.2 329.5,264.8 359.3,110.0 219.9,300.3 448.4,113.8 209.8,306.5 381.8,201.8 198.2,362.9 214.8,300.1 468.2,71.2 463.6,99.8 399.8,108.0 302.9,301.3 484.3,111.3 474.8,94.6 472.2,96.7 369.6,170.9 217.3,368.9 158.8,342.4 329.7,229.1 213.9,373.2 417.7,118.9 400.8,133.9 185.6,364.6 309.6,168.5 195.7,354.8 348.0,195.6 270.9,278.0 330.0,199.8 449.2,119.2 157.4,349.4 175.0,377.4 366.8,172.0 147.6,363.3 372.0,189.5 257.6,322.0 272.5,313.9 340.8,211.1 398.4,136.7 159.0,367.9 221.2,307.4 460.3,82.3 417.9,103.6 243.8,299.2 451.5,118.7 391.6,124.8 170.6,354.4 269.7,188.9 196.1,312.1 439.9,183.0 263.5,298.9 170.6,373.1 452.7,128.5 243.8,258.1 396.4,111.0 457.8,84.2 406.4,139.5 229.7,320.5 316.6,331.0 467.0,136.2 485.0,70.9 345.9,171.1 445.3,104.1 427.2,203.4 481.1,114.8 223.1,337.5 237.0,319.3 258.5,326.4 467.1,110.1 389.5,148.3 398.0,115.1 212.5,349.1 305.7,273.4 417.5,82.6 248.3,344.2 305.1,140.8 350.4,188.4 232.0,333.2 438.7,148.3 454.5,79.7 412.6,136.3 194.9,362.0 253.9,302.7 431.4,74.5 445.4,111.5 213.5,325.8 269.2,284.8 269.3,276.0 196.8,299.9 405.5,196.6 422.0,88.9 193.0,247.0 323.8,227.2 280.2,314.7 419.7,126.1 269.6,342.6 461.8,121.7 401.7,105.8 219.4,337.0 458.4,87.6 233.7,351.8 274.3,210.1 204.2,369.0 221.3,301.4 188.4,321.5 283.6,286.9 322.1,234.2 387.4,201.5 398.3,179.9 352.0,147.7 435.2,104.9 299.9,283.8 472.9,72.8 449.6,94.5 246.5,271.8 430.8,130.4 443.3,102.4 344.2,147.0 430.7,107.1 406.9,78.7 447.1,160.5 421.5,122.3 408.2,85.9 241.7,306.2 181.5,309.9 451.1,108.6 262.0,268.0 297.7,230.6 150.7,349.7 401.2,94.2 416.6,152.6 165.2,361.5 279.7,353.2 280.0,261.1 453.8,76.9 426.1,131.6 250.1,286.0 291.2,326.4 253.9,363.4 213.8,351.5 169.9,345.0 240.8,293.0 436.7,101.4 330.9,306.6 393.0,206.3 178.0,362.4 365.5,205.8 448.3,171.7 469.8,122.4 171.4,364.9 274.1,167.4 189.6,361.2 216.7,326.8 475.0,84.0 302.4,282.7 482.7,89.0 236.0,309.3 275.8,297.9 245.8,359.8 456.4,104.3 310.0,276.4 305.0,169.5 257.0,292.0 181.8,350.6 412.7,154.5 203.9,328.2 300.9,333.3 155.0,379.8 321.6,233.4 240.5,349.5 311.8,130.9 432.2,196.4 448.3,104.9 357.7,207.5 442.0,118.8 226.7,314.0 400.6,105.0 414.4,106.2 268.4,264.4 421.7,111.5 449.1,95.1 431.4,113.7 206.3,270.9 443.6,104.1 274.9,261.7 218.8,343.1 442.7,171.7 433.5,98.0 441.8,102.3 262.4,242.5 260.1,277.0 323.2,246.9 470.0,111.4 265.5,300.8 268.3,282.1 395.6,170.5 201.6,324.4 169.4,350.5 333.7,222.2 183.0,352.8 488.5,80.5 407.5,114.4 400.0,131.7 253.9,297.1 386.9,108.8 327.3,199.2 432.2,153.2 387.0,117.5 437.0,86.8 191.3,328.4 287.9,279.8 384.1,162.5 468.1,84.2 313.5,196.2 233.9,332.8 199.6,360.3 339.6,234.4 317.1,237.3 437.6,105.6 357.1,133.1 486.4,94.2 246.2,316.8 197.6,327.9 200.4,315.3 461.5,120.3 386.8,225.4 277.5,257.1 174.6,354.2 204.2,367.8 422.8,130.2 333.3,178.4 310.9,183.6 372.9,197.2 145.2,361.9 204.5,368.3 308.1,251.1 367.7,171.3 488.3,87.9 474.7,73.0 352.6,277.4 430.6,114.1 433.8,104.0 487.9,79.5 432.8,108.0 486.8,104.1 168.6,356.3 451.3,136.9 238.3,331.6 415.8,121.8 180.8,344.1 269.1,322.2 234.2,338.7 168.6,358.9 443.7,136.1 447.2,93.2 356.1,168.8 282.7,342.8 454.1,84.2 201.9,312.8 265.0,250.3 187.7,327.7 422.4,89.8 383.7,145.4 395.2,123.1 380.0,181.5 231.5,333.7 432.9,102.5 196.5,352.9 331.0,175.9 417.1,123.6 404.3,178.4 295.5,257.1 255.4,308.1 371.9,122.2 490.0,80.6 159.7,342.9 468.7,88.9 230.1,222.8 257.3,301.4 187.2,377.4 485.0,144.9 341.7,138.4 453.6,92.6 270.9,304.4 461.9,114.3 314.4,246.5 312.6,238.6 484.7,93.9 301.6,127.6 437.7,90.5 405.6,162.3 358.0,162.6 227.1,300.0 252.5,353.4 141.5,362.2 388.9,176.7 179.5,357.8 447.1,103.7 286.0,266.4 218.5,312.8 237.2,301.5 357.1,199.4 431.5,100.0 255.6,342.7 483.1,100.7 229.7,317.5 431.5,75.2 166.7,365.6 169.9,327.7 429.7,96.2 416.2,145.9 454.4,89.6 284.4,261.6 305.5,181.8 440.6,94.2 234.5,359.6 341.6,230.7 276.4,334.6 263.2,309.1 451.6,72.7 261.8,364.6 153.0,360.1 393.6,117.5 238.1,357.4 454.3,88.3 453.2,71.1 479.0,159.5 294.1,244.1 288.2,177.8 245.1,281.6 227.0,347.5 243.4,281.2 355.4,230.3 199.6,346.3 472.6,102.0 328.6,214.2 287.8,329.1 414.4,78.4 453.4,121.7 190.8,359.3 453.2,116.7 447.6,114.6 269.6,280.6 454.5,96.3 396.0,141.7 305.7,288.7 202.6,338.5 403.9,121.2 467.2,89.5 255.0,316.9 462.9,102.9 275.4,345.7 271.9,243.6 322.4,203.2 247.8,245.1 202.9,351.0 409.6,138.5 257.1,258.3 333.5,164.7 433.5,86.3 161.2,344.4 437.3,91.0 380.2,138.7 231.3,361.7 188.0,375.5 435.0,83.4 237.1,345.7 362.3,235.6 427.8,96.9 397.8,115.6 170.7,307.9 230.7,351.5 484.5,115.5 356.4,204.5 394.2,127.4 353.8,144.2 411.0,120.2 389.7,117.7 247.7,318.5 414.6,84.2 473.1,123.5 160.5,346.8 338.0,216.5 180.3,335.8 291.5,338.8 189.2,358.3 463.8,79.2 438.5,118.6 295.2,282.2 353.3,116.0 389.3,200.3 454.1,86.0 188.0,355.9 387.7,152.1 229.1,302.6 348.2,110.0 288.2,313.1 268.7,316.9 182.3,345.0 474.9,93.5 279.0,327.1 303.7,257.0 457.5,125.3 284.5,273.2 203.3,373.8 215.3,328.8 303.4,266.5 443.9,136.3 483.8,75.9 224.4,329.7 481.5,70.1 299.1,248.2 436.4,81.3 160.3,354.8 428.5,121.4 429.6,88.0 438.4,149.9 281.0,258.3 263.5,329.3 379.8,85.5 303.3,321.4 299.5,321.6 249.0,265.1 408.2,107.4 416.5,154.8 361.8,113.0 294.1,237.0 360.7,248.4 341.8,280.7 410.2,208.5 188.3,374.5 240.0,285.0 479.1,115.6 272.8,175.0 326.7,128.5 183.7,358.7 461.7,101.3 442.6,101.7 403.5,138.9 397.6,198.6 375.8,161.1 414.3,150.1 228.1,317.4 468.3,142.1 365.3,194.9 481.5,102.8 445.0,89.5 158.3,356.5 349.3,165.5 262.2,290.2 292.2,219.5 320.8,234.4 447.1,104.1 391.9,148.8 208.9,302.3 172.7,340.5 407.9,156.1 410.6,150.5 151.0,346.9 309.0,251.8 367.0,157.1 187.4,337.2 313.5,241.9 256.8,295.0 420.4,128.0 429.3,103.8 441.8,145.8 186.4,304.3 389.5,109.6 417.8,147.6 202.4,369.1 375.8,100.2 283.1,337.1 351.3,192.0 229.0,336.1 390.7,110.8 374.0,111.1 318.6,236.5 350.6,183.5 153.8,360.0 199.5,350.2 245.6,241.5 198.7,334.3 246.9,264.5 359.6,201.4 200.4,359.7 374.3,124.7 345.2,212.7 478.1,85.6 447.2,91.2 256.6,298.3 241.1,266.9 257.6,239.5 383.4,173.5 411.8,112.2 233.7,335.0 402.9,103.4 389.5,156.1 392.1,167.8 442.9,116.5 483.6,76.2 196.7,355.0 225.9,346.2 427.1,111.6 258.4,266.4 476.9,103.9 191.1,329.1 437.5,150.4 396.3,128.4 336.7,221.3 272.5,279.6 273.5,276.8 262.7,220.6 409.8,103.0 174.7,371.8 212.7,377.0 219.2,299.2 443.4,81.5 433.0,94.8 273.8,226.7 262.2,276.5 278.3,304.8 415.7,170.0 463.9,130.2 272.3,346.1 164.2,368.2 411.4,121.6 445.2,90.9 451.5,86.4 425.7,164.0 401.1,100.5 380.4,192.1 427.9,195.8 355.1,136.5 156.2,371.2 216.9,328.1 391.4,127.4 260.1,343.1 282.4,261.1 415.7,141.4 384.3,185.5 291.3,335.3 445.2,123.7 403.0,171.4 181.1,338.6 230.8,313.5 353.8,156.3 329.7,236.9 228.4,320.3 336.9,186.2 249.3,265.2 157.7,364.1 268.3,314.3 278.8,233.1 270.0,323.8 177.6,354.1 297.7,276.2 369.8,272.8 470.1,83.6 374.6,117.0 178.9,376.8 339.8,253.4 219.5,280.2 493.4,74.7 402.8,137.8 287.7,284.4 270.0,351.6 422.1,118.4 398.0,173.8 255.4,258.4 189.5,338.2 447.7,80.4 358.0,215.0 458.0,76.3 231.8,336.9 456.5,86.5 433.9,123.0 194.7,361.7 299.2,258.1 486.4,95.1 253.0,326.6 274.2,231.6 473.9,93.4 427.8,96.1 393.1,96.9 223.4,316.8 305.3,230.5 279.0,353.0 243.8,368.7 296.7,187.2 272.0,276.9 368.2,186.6 418.7,170.7 273.9,243.1 231.6,296.0 264.3,330.0 389.4,140.1 197.4,341.3 321.7,295.4 300.2,173.6 349.8,241.1 401.0,91.3 354.7,223.2 475.1,78.9 324.4,298.4 444.1,146.2 244.4,275.0 261.5,257.7 415.4,105.7 235.6,309.4 426.3,91.8 437.6,143.7 328.5,212.0 225.8,366.9 377.7,186.7 455.8,85.6 209.7,314.9 453.5,78.1 249.8,325.0 253.6,257.3 278.5,296.0 455.3,140.4 198.5,312.2 392.6,132.6 364.1,111.1 440.4,86.6 385.1,191.8 274.7,360.9 276.4,336.9 484.9,74.7 446.9,94.7 481.7,78.2 198.9,326.4 220.2,349.6 204.6,314.4 279.7,286.0 379.1,187.7 440.2,85.0 307.2,314.7 235.2,337.8 151.6,376.3 461.7,139.8 421.9,185.6 187.5,342.8 424.5,110.9 161.4,356.2 401.8,150.7 192.2,347.0 185.3,353.0 448.5,67.8 406.9,172.9 166.6,372.0 189.4,357.4 269.4,331.7 354.2,177.3 209.1,357.7 299.2,257.8 373.3,148.1 422.1,113.4 257.9,317.5 217.5,323.0 476.8,96.8 391.6,133.1 363.3,146.1 266.3,311.8 459.8,136.4 461.8,76.2 210.2,324.1 246.0,361.8 483.0,75.1 173.5,330.9 244.0,339.1 187.7,353.4 422.5,107.4 277.5,344.9 400.6,110.8 298.8,305.4 363.0,109.1 313.2,324.4 197.6,368.3 399.3,116.1 202.3,374.8 459.9,104.7 168.8,372.8 149.3,373.6 318.1,232.7 248.5,303.7 228.4,237.7 390.7,138.3 158.5,373.8 384.4,150.6 178.2,325.2 251.5,238.8 361.0,180.6 393.8,177.4 485.3,71.4 433.9,114.8 230.5,313.9 468.8,122.5 251.4,338.4 291.0,362.0 268.1,321.0 484.3,95.1 394.2,173.4 465.4,106.1 269.9,341.2 273.8,235.5 342.9,241.2 285.2,268.9 458.7,88.1 354.9,259.0 432.6,118.1 281.5,328.5 161.3,375.9 193.3,344.9 197.8,325.2 308.0,170.4 204.5,360.9 371.6,131.6 339.2,200.8 269.2,304.3 406.2,106.9 258.6,357.2 271.3,262.5 414.4,89.7 265.4,324.0 449.3,136.5 239.4,278.2 428.2,128.2 249.8,317.1 400.3,102.3 292.9,293.8 194.8,376.5 282.5,251.8 457.1,92.1 285.2,250.7 190.0,330.2 397.6,193.8 219.4,306.9 169.6,359.0 442.9,96.4 370.3,106.2 411.3,102.5 479.1,75.0 406.8,152.5 156.5,332.0 460.0,103.4 359.1,209.3 380.1,250.4 426.5,95.6 175.3,367.5 433.0,90.9 440.2,92.4 321.4,227.0 480.3,120.0 159.4,366.7 393.4,118.7 331.9,297.6 280.0,196.2 403.4,110.7 368.6,172.2 260.9,366.4 349.9,279.0 216.3,356.2 193.2,332.7 152.9,373.3 420.6,135.5 222.3,332.3 229.7,265.8 225.2,315.3 284.0,276.3 412.4,122.3 430.5,145.7 163.9,365.4 403.6,150.1 279.2,308.8 353.3,158.5 408.1,98.1 449.4,118.2 384.8,123.8 450.9,92.8 467.2,114.2 254.8,362.7 226.8,298.6 280.3,311.6 233.6,343.1 161.0,345.0 174.1,362.6 144.0,379.7 149.6,376.1 200.5,343.8 169.1,348.6 139.9,368.4 170.0,347.1 142.1,364.2 197.4,356.7 176.7,355.8 152.5,361.9 175.1,340.6 169.7,367.4 156.7,371.8 197.1,353.6 182.2,362.1 184.8,364.0 151.9,356.5 146.8,374.3 149.8,363.2 149.8,351.0 145.1,375.4 147.5,366.7 160.4,339.5 187.8,379.6 182.3,354.1 185.6,339.5 161.0,344.5 157.7,378.2 165.4,376.4 179.8,344.2 158.2,374.9 176.2,343.9 164.5,361.7 196.8,356.1 153.2,365.7 188.1,339.7 157.6,379.8 157.8,373.2 172.8,355.7 143.4,373.4 160.4,361.8 184.1,355.1 143.0,366.2 189.4,352.3 168.6,363.1 181.3,337.3 191.6,348.8 172.1,378.2 151.4,372.9 191.1,348.7 165.5,372.6 199.1,355.9 171.7,340.3 202.1,350.9 166.9,375.0 196.8,372.3 146.3,356.0 201.5,344.0 185.3,357.3 195.4,329.1 149.4,373.3 189.6,358.4 188.6,349.0 150.5,345.8 149.2,363.5 181.5,344.5 154.5,377.6 166.3,341.1 159.6,347.4 196.2,342.4 158.2,362.7 171.4,343.9 187.7,355.7 149.7,358.0 160.2,340.5 173.0,356.3 167.3,346.4 154.2,374.5 174.9,356.1 193.5,353.9 171.2,338.3 161.2,339.8 195.1,346.3 192.8,368.2 189.8,368.5 192.4,331.5 200.3,345.8 181.1,351.9 171.8,362.7 151.2,378.4 171.4,340.4 158.5,373.2 147.0,355.1 195.2,372.6 161.6,369.7 153.3,362.1 169.2,346.7 177.6,372.3 194.6,368.6 155.1,363.5 171.2,382.4 152.8,377.0 149.3,373.8 161.1,355.0 142.8,369.9 166.1,344.6 148.8,360.2 164.6,375.5 194.5,335.5 176.2,368.8 185.3,367.1 146.1,371.9 176.1,338.4 146.2,372.9 141.3,377.2 179.3,342.7 148.3,381.0 171.2,369.8 188.1,355.2 147.9,381.1 158.0,360.9 154.4,372.0 158.8,377.3 161.5,382.5 183.9,331.8 140.7,372.3 149.1,364.4 167.6,379.1 166.5,346.9 171.4,353.6 150.8,370.7 176.8,337.8 167.5,334.3 162.5,351.3 142.4,355.4 145.6,364.0 203.1,352.0 152.9,375.8 147.1,375.4 187.1,362.1 148.2,372.8 197.3,361.9 156.7,352.3 164.9,359.7 161.4,346.0 145.2,381.3 175.6,369.7 183.4,346.8 174.3,375.7 180.6,344.8 170.5,379.3 185.5,364.5 162.6,365.4 177.4,362.3 152.3,371.3 173.4,347.4 163.0,350.8 170.5,356.6 160.7,380.0 159.3,348.0 180.5,351.0 174.5,348.8 167.3,337.2 151.1,349.2 199.4,344.2 190.8,348.7 162.8,340.3 171.2,348.7 144.1,365.5 164.4,348.8 149.3,359.7 177.0,371.5 141.4,368.1 184.0,333.1 175.0,337.8 184.9,375.0 169.5,338.3 178.2,332.0 167.4,337.1 182.7,341.8 172.6,371.9 165.1,341.3 177.4,377.3 148.3,360.4 140.1,375.1 145.9,375.8 166.8,360.1 164.1,361.1 191.9,352.1 160.3,355.6 200.1,357.3 158.0,363.3 152.7,370.2 148.2,377.8 144.0,374.3 197.8,364.8 148.7,367.4 184.9,348.7 201.3,354.4 161.1,335.7 152.0,347.3 148.9,370.0 195.5,339.6 170.6,340.8 179.9,369.3 192.3,333.4 165.0,349.2 155.5,345.6 167.8,341.5 179.1,355.5 141.6,360.2 167.8,377.8 162.2,352.3 191.2,340.1 198.9,344.7 197.4,363.3 156.4,357.4 184.3,340.9 167.5,339.5 174.4,371.3 146.9,350.8 152.7,365.8 184.4,331.6 174.6,354.2 156.1,353.8 152.7,362.7 167.7,353.9 193.1,337.7 149.3,361.9 151.3,372.5 184.6,348.7 180.8,356.3 187.1,364.4 183.0,345.8 152.2,377.5 183.4,348.8 198.6,351.9 204.9,362.4 144.2,369.5 154.2,372.3 190.1,360.3 178.9,351.4 179.9,354.5 187.6,356.9 180.4,368.4 168.4,338.5 164.1,375.8 149.8,363.2 140.1,375.1 143.5,375.9 195.9,363.9 157.2,356.7 139.3,380.1 194.1,346.9 172.8,360.3 157.7,373.3 171.8,342.7 167.2,354.4 145.0,369.7 185.9,367.0 174.5,362.8 157.2,373.8 186.2,374.8 142.8,367.5 166.5,375.0 185.4,372.6 169.6,354.9 156.3,357.5 181.0,336.4 188.9,370.1 166.8,352.7 185.0,351.0 166.6,367.5 167.0,353.9 163.7,333.0 168.2,371.9 189.5,326.1 168.7,378.5 157.1,372.9 165.7,367.3 181.9,343.6 154.8,368.9 188.2,358.5 186.4,372.1 145.0,381.4 143.5,364.3 159.1,352.8 182.5,371.3 144.1,367.1 159.7,362.3 179.4,379.0 189.4,333.2 139.8,376.3 150.6,344.4 170.2,377.5 196.6,350.0 169.5,380.4 164.2,381.7 148.3,369.2 191.2,355.0 186.6,357.9 159.1,368.6 154.6,365.0 163.2,342.5 151.0,348.3 180.3,366.7 165.1,371.6 162.1,361.7 174.6,374.0 164.4,348.0 156.9,352.1 176.2,363.5 156.5,378.2 186.8,336.0 175.7,382.4 158.3,339.9 185.8,378.0 144.9,380.2 141.5,362.4 151.9,373.3 147.0,368.2 190.4,345.8 197.9,343.9 190.6,353.6 178.5,363.2 175.0,347.6 202.4,350.2 176.0,336.9 159.9,343.2 197.2,361.2 164.2,366.7 164.6,363.5 194.6,360.1 190.3,376.1 160.1,379.6 199.3,336.2 175.4,374.1 175.2,373.4 207.6,348.5 156.6,347.4 181.9,372.0 139.5,374.8 167.8,370.6 194.6,327.9 148.9,376.5 166.9,356.2 140.9,368.5 180.3,344.1 196.9,334.3 192.7,357.0 158.7,364.8 177.5,351.9 174.8,356.9 180.4,340.1 158.1,358.6 198.5,334.2 197.8,348.4 146.6,357.9 138.4,372.8 173.8,333.9 164.0,340.1 166.2,378.9 181.2,360.4 143.3,372.2 202.9,355.7 180.7,367.9 187.5,332.8 163.4,356.9 163.8,360.5 157.4,359.6 158.7,369.7 190.7,337.5 167.3,372.6 145.9,359.9 147.2,357.8 159.0,366.4 162.7,356.8 176.4,365.5 193.3,353.0 155.3,357.0 179.5,338.6 179.4,338.0 174.3,344.0 186.4,349.2 146.5,370.0 182.0,348.5 150.6,352.5 155.4,349.2 170.7,364.9 161.7,346.5 189.6,365.4 154.0,377.6 195.5,347.0 179.2,333.6 189.4,336.7 140.2,382.3 161.7,347.4 174.3,340.1 161.2,376.4 186.8,375.2 145.1,373.4 194.4,352.4 201.9,343.2 190.9,374.0 178.1,359.7 164.6,358.6 141.7,373.2 169.6,329.6 157.5,359.4 183.8,371.4 192.9,361.4 191.0,355.4 178.5,381.6 151.5,364.6 191.6,336.2 200.7,337.1 169.7,336.4 186.3,338.0 193.0,333.2 168.7,378.9 183.0,339.0 158.7,377.2 192.6,350.7 183.5,354.7 168.5,366.3 171.2,356.4 191.0,333.1 142.1,380.7 147.3,379.5 190.9,347.8 151.0,367.5 172.9,372.9 456.4,85.6 457.8,85.7 474.7,68.9 475.1,77.9 451.6,79.5 453.3,84.0 476.4,85.6 472.1,78.9 481.0,88.1 473.8,88.6 480.1,90.2 465.9,95.2 491.0,74.1 469.7,79.0 475.4,89.5 474.0,75.6 481.5,76.2 462.1,92.9 456.3,87.9 482.0,85.9 490.4,84.6 469.3,101.1 454.5,85.0 466.3,92.6 449.8,69.5 465.1,80.8 470.1,74.1 494.8,74.3 484.6,70.9 482.5,75.2 473.9,92.5 481.0,73.5 471.9,76.2 479.3,88.2 450.2,73.3 452.4,92.8 467.0,95.2 479.7,80.6 462.2,78.6 457.1,77.1 481.9,75.6 463.9,78.2 472.4,68.5 471.0,75.6 461.8,94.4 482.0,84.0 465.6,90.9 456.0,69.5 464.3,94.9 467.2,88.1 452.0,72.5 490.9,81.7 485.1,76.4 450.1,82.9 466.2,75.2 483.9,73.0 468.0,90.4 490.7,72.6 494.6,73.4 476.5,94.9 450.2,79.9 477.7,66.4 453.6,75.8 482.0,90.3 484.9,80.0 471.4,86.4 475.1,67.3 466.5,77.4 455.1,78.2 456.2,79.0 473.3,96.2 471.6,89.2 479.4,103.1 480.8,78.8 473.5,92.4 456.1,88.1 448.8,75.3 486.7,85.2 467.9,77.0 488.5,74.1 462.9,77.4 492.7,64.9 471.4,80.1 484.4,72.7 464.9,80.4 456.9,82.5 470.4,82.8 477.1,88.8 458.6,84.2 481.1,75.3 472.4,89.7 477.1,67.0 459.8,82.3 479.0,71.5 467.3,84.4 443.2,83.8 473.7,88.4 451.9,88.5 484.8,75.5 484.2,72.8 462.6,89.9 446.3,80.9 454.8,73.5 483.8,68.6 458.6,71.3 490.0,72.9 492.7,77.2 492.0,68.7 493.2,76.3 478.4,81.2 470.5,72.0 488.2,85.7 471.6,91.4 493.1,69.8 480.3,90.2 470.7,75.3 470.2,81.0 474.2,85.4 464.3,86.3 459.3,70.1 468.6,73.3 475.3,72.7 493.0,69.3 460.9,73.5 465.1,95.8 487.0,95.9 452.4,80.9 487.8,64.5 475.9,90.4 467.9,74.8 460.6,83.3 490.7,83.6 468.1,79.1 488.7,70.8 472.0,73.4 465.1,79.9 461.2,94.4 490.6,79.5 474.5,84.3 490.5,75.5 453.1,77.5 458.3,76.8 475.0,70.8 462.7,82.9 483.0,80.1 479.3,67.1 451.1,71.5 492.9,74.6 488.4,74.6 476.8,87.4 465.8,75.8 458.5,74.9 473.5,75.5 462.4,71.5 462.0,72.7 465.0,70.9 450.2,86.7 480.2,81.7 474.6,72.5 488.5,80.1 480.4,92.5 490.2,73.6 460.1,82.2 469.1,78.9 478.0,87.2 490.4,83.4 461.2,90.2 466.3,79.3 485.6,70.8 472.6,88.0 468.2,91.5 478.0,68.4 472.4,81.0 488.5,82.8 464.0,85.2 478.4,81.1 474.4,88.0 480.8,82.2 463.4,74.8 468.9,81.6 485.9,78.5 468.8,75.1 471.2,92.6 483.7,66.0 458.1,86.2 491.2,70.5 456.5,79.4 477.1,73.9 471.1,74.7 469.4,81.0 456.3,86.4 472.4,77.2 489.8,72.9 463.3,77.4 456.2,88.4 474.0,88.2 482.2,74.7 475.6,87.4 453.6,75.5 487.6,66.4 482.0,89.7 452.2,76.0 482.4,74.0 479.4,77.1 475.0,90.6 482.1,92.5 460.3,74.6 462.2,80.7 475.8,88.1 466.5,91.2 474.1,75.8 481.1,77.9 435.9,68.1 482.4,80.5 457.7,80.2 474.2,85.8 462.4,88.8 474.2,72.4 461.5,91.0 474.4,83.9 480.5,78.8 483.5,71.5 488.6,79.0 489.2,68.6 484.4,88.7 449.9,79.0 465.7,83.1 479.5,85.6 489.6,87.2 487.4,79.7 487.9,67.0 460.9,72.7 475.6,68.1 459.7,74.2 481.5,84.2 460.5,88.2 480.9,70.7 466.6,86.4 467.0,71.9 456.9,76.7 468.8,85.3 471.4,78.1 459.7,72.1 470.8,73.1 463.7,89.1 467.5,71.8 484.7,69.3 459.5,84.7 474.5,78.2 488.6,71.4 493.4,77.3 486.0,83.3 489.6,77.9 479.5,85.9 468.5,81.1 493.0,63.6 464.6,74.6 489.9,66.8 471.9,96.7 484.5,68.3 456.4,88.9 480.4,88.5 484.9,64.9 489.7,72.4 464.2,93.1 464.1,83.9 483.0,74.7 470.1,99.6 462.1,69.8 473.2,94.6 482.9,76.3 491.9,74.4 458.7,79.0 479.1,75.8 470.6,87.5 475.2,84.3 485.8,92.1 472.9,70.9 475.0,66.5 481.7,85.3 482.9,72.1 486.1,77.5 454.2,80.4 464.6,70.3 477.2,86.0 464.2,76.3 483.3,69.1 456.1,81.6 474.1,80.0 444.7,71.3 462.2,71.8 484.4,85.8 488.2,81.7 471.4,78.3 471.2,69.4 468.8,89.8 481.3,65.3 492.6,69.5 488.9,75.6 470.7,100.9 493.6,70.5 468.4,86.0 480.2,77.8 466.2,93.1 488.7,70.4 467.0,85.9 463.4,86.5 471.7,82.7 461.6,76.4 471.4,96.3 495.5,71.6 473.1,97.4 480.5,88.7 485.7,72.2 480.2,84.8 488.9,94.3 457.0,84.3 489.5,70.9 487.8,63.6 481.7,83.2 463.2,84.6 455.8,82.3 473.0,68.0 466.5,76.2 484.3,95.4 457.8,81.2 480.9,80.1 476.6,94.2 471.2,66.1 482.4,102.2 487.1,76.3 478.3,77.2 457.3,83.9 456.0,81.6 495.6,71.0 470.7,79.9 463.5,84.9 487.1,70.8 466.7,87.6 465.2,78.3 470.7,76.6 496.7,63.2 454.4,75.0 452.9,78.7 495.5,71.5 488.9,77.5 471.3,86.3 461.6,67.3 458.9,89.7 464.6,72.9 474.6,73.5 469.2,83.9 463.6,92.1 470.7,97.2 475.1,69.5 449.8,71.8 458.3,81.5 480.4,76.5 472.0,91.8 483.4,80.2 459.7,80.8 471.0,75.9 475.6,79.5 478.7,67.6 476.6,69.6 471.2,93.2 462.2,77.6 468.4,69.7 455.9,93.0 476.7,83.9 457.1,79.7 484.7,91.5 478.6,90.6 479.0,71.6 481.8,93.0 456.8,92.6 483.8,89.2 453.0,75.6 481.3,87.5 480.9,75.9 477.1,93.8 462.8,94.8 481.2,68.0 437.1,72.2 459.1,70.5 463.6,68.9 453.5,75.5 458.9,88.1 469.3,93.1 454.9,75.4 453.8,70.6 475.0,83.0 466.0,79.0 482.2,82.0 490.3,77.2 476.9,82.0 462.2,82.4 481.3,64.2 462.7,95.7 472.9,89.1 468.2,89.3 474.9,89.2 464.1,83.0 492.1,78.4 453.8,76.6 458.4,78.7 479.2,78.9 481.6,73.8 470.7,96.6 462.1,90.4 473.4,79.3 473.2,68.0 454.8,81.9 473.8,84.5 483.0,81.7 464.0,87.4 490.2,65.9 469.9,88.4 481.7,73.5 479.8,74.8 470.1,85.2 458.1,92.9 457.2,74.7 467.8,82.1 461.1,88.8 471.1,94.0"/>
<polyline class="b" points="215.2,132.0 253.5,127.2 250.2,157.2 319.8,107.2 354.0,112.2 377.8,103.2 397.8,74.0 421.5,82.0 452.2,75.2 463.5,74.0 489.5,114.5 490.8,131.0 466.5,156.0 213.2,170.0 253.5,187.0 235.2,201.2 209.0,209.2 192.0,237.0 209.0,246.2 181.5,261.0 195.2,260.0 174.5,267.5 375.8,268.8 339.8,280.5 452.8,175.0 468.5,173.2 460.5,195.0 442.2,208.2 446.5,241.2 397.8,264.2 144.0,333.0 148.2,332.2 149.0,341.0 150.5,344.0 148.2,351.8 168.5,376.5 172.2,374.0 189.0,374.0 212.8,369.8 230.2,368.0 242.0,348.5 362.8,289.0 382.0,299.8 354.0,304.0 357.8,304.0 362.8,306.8 340.8,312.8 372.8,314.0 299.8,319.8 259.8,327.8 274.0,336.0 282.0,338.0 304.8,339.0 326.8,334.0 324.8,343.5 323.8,351.0 342.8,346.0 365.8,339.0 261.0,343.5 259.0,346.0 275.0,354.5 401.5,294.0 418.5,292.8"/>
<rect x="123.5" y="49.4" width="389.1" height="346.2" fill="none" stroke="#555" stroke-width="1.2"/>
<path d="M123.5 49.4V395.6H512.6M123.5 384.1h-8.5M136.4 395.6v8M123.5 319.5h-8.5M208.9 395.6v8M123.5 255.0h-8.5M281.4 395.6v8M123.5 190.4h-8.5M353.8 395.6v8M123.5 125.9h-8.5M426.3 395.6v8M123.5 61.3h-8.5M498.8 395.6v8" fill="none" stroke="#3a3a3a" stroke-width="1.4"/>
<text class="tk" x="136.4" y="422.7" text-anchor="middle">0</text>
<text class="tk" transform="translate(106.6 384.1) rotate(-90)" text-anchor="middle">0</text>
<text class="tk" x="208.9" y="422.7" text-anchor="middle">20</text>
<text class="tk" transform="translate(106.6 319.5) rotate(-90)" text-anchor="middle">20</text>
<text class="tk" x="281.4" y="422.7" text-anchor="middle">40</text>
<text class="tk" transform="translate(106.6 255.0) rotate(-90)" text-anchor="middle">40</text>
<text class="tk" x="353.8" y="422.7" text-anchor="middle">60</text>
<text class="tk" transform="translate(106.6 190.4) rotate(-90)" text-anchor="middle">60</text>
<text class="tk" x="426.3" y="422.7" text-anchor="middle">80</text>
<text class="tk" transform="translate(106.6 125.9) rotate(-90)" text-anchor="middle">80</text>
<text class="tk" x="498.8" y="422.7" text-anchor="middle">100</text>
<text class="tk" transform="translate(106.6 61.3) rotate(-90)" text-anchor="middle">100</text>
<!-- bottom plot -->
<polygon class="s" points="135.3,857.7 136.5,843.0 140.4,827.8 142.7,820.1 145.1,815.5 151.6,808.1 161.4,802.6 166.5,791.3 171.2,780.0 181.3,770.3 188.9,763.9 198.7,755.8 206.3,747.1 215.4,732.3 224.8,717.1 234.2,701.9 243.7,687.7 253.5,673.5 262.5,662.2 273.7,646.7 286.1,636.4 299.8,628.6 313.3,621.2 326.3,613.1 345.1,602.5 358.2,593.4 370.5,585.4 383.2,575.7 397.3,563.8 419.1,552.1 443.0,542.4 457.8,538.6 474.2,535.7 499.0,533.2 499.2,537.0 497.0,553.3 494.1,565.7 491.6,575.7 489.7,583.1 487.6,597.0 483.9,609.6 475.2,623.1 465.5,630.6 455.3,638.0 447.7,639.6 432.8,646.7 420.5,656.7 407.8,671.6 395.5,685.4 383.2,691.3 368.3,700.9 358.2,710.6 350.6,720.6 335.7,733.2 323.4,743.9 315.8,753.6 295.9,767.1 278.5,778.4 266.1,789.7 253.5,802.6 243.7,814.2 236.1,821.7 228.8,829.1 218.7,836.5 211.1,841.7 203.8,848.1 196.2,850.1 186.4,852.3 179.0,853.0 166.5,854.6 148.0,857.7"/>
<polyline class="w" points="200.4,834.5 206.9,746.7 470.9,617.4 376.9,693.8 379.4,655.8 481.4,606.0 274.3,770.8 444.1,634.9 185.5,770.7 380.0,685.5 168.7,849.4 457.0,629.7 211.1,741.6 175.8,850.2 260.1,793.0 166.2,796.7 402.1,674.4 453.9,596.5 189.2,850.1 320.9,618.4 242.9,697.7 301.8,718.2 181.0,851.6 403.3,659.7 415.7,557.6 205.6,835.7 408.4,650.6 487.9,583.2 178.1,778.3 322.2,717.2 368.5,692.2 201.3,815.7 196.1,847.1 457.6,634.7 383.3,687.1 422.6,612.6 246.3,688.9 286.7,765.6 357.4,690.3 400.6,669.5 340.6,726.8 480.9,605.7 167.9,850.5 368.1,607.3 285.2,741.1 403.5,649.4 344.6,718.6 390.8,576.6 194.4,764.3 362.0,696.6 203.7,838.2 322.9,732.0 162.2,841.6 173.2,791.3 296.0,750.8 253.2,773.9 301.5,748.8 184.4,847.0 181.7,848.1 402.1,678.1 306.8,633.5 451.1,542.9 278.9,756.8 377.1,585.7 196.2,764.1 354.1,714.6 254.5,674.7 323.4,738.4 210.6,749.7 213.7,831.1 168.9,830.2 454.7,545.9 315.8,749.7 171.9,783.6 311.5,752.3 375.0,696.3 333.2,616.4 233.2,817.2 343.8,613.6 349.0,711.6 286.7,754.2 473.6,593.2 229.3,722.2 429.2,552.9 224.0,800.1 327.3,613.3 174.5,821.0 291.9,749.4 168.6,854.1 198.1,761.7 351.4,706.4 286.6,770.8 250.7,803.8 255.9,784.1 360.5,688.1 297.2,743.4 348.7,719.2 348.0,703.1 437.7,629.5 288.4,636.2 328.3,622.8 362.1,705.5 340.6,607.7 264.8,777.1 265.3,787.0 310.3,753.4 472.3,602.2 413.0,647.7 305.9,745.6 245.4,716.0 213.1,839.3 207.3,822.9 364.8,671.0 284.7,771.2 231.8,818.8 268.0,775.1 159.9,846.8 398.1,565.2 238.2,797.3 240.1,816.9 481.7,544.0 455.9,614.4 210.2,836.4 379.2,676.7 379.4,583.6 204.4,752.9 264.4,764.3 362.2,591.2 340.3,612.1 193.4,828.0 362.5,699.7 193.6,840.8 249.3,679.9 173.0,786.6 402.9,563.9 459.8,541.1 438.3,641.3 169.8,850.5 405.0,577.0 367.6,594.4 178.6,780.6 311.3,731.4 182.7,842.6 390.6,681.6 470.5,624.6 231.0,826.1 232.5,821.8 213.5,834.0 317.0,633.0 170.5,850.9 383.2,690.0 345.9,720.6 222.1,814.5 480.2,610.1 201.7,846.3 209.3,822.5 406.3,656.8 356.9,609.5 244.2,812.4 194.9,843.4 273.4,774.1 195.2,829.7 445.4,547.1 278.2,650.7 443.4,641.2 306.9,736.7 246.2,684.8 210.6,839.7 438.9,618.1 424.5,647.4 360.1,698.8 410.3,557.2 449.5,637.5 230.5,822.8 397.8,676.1 224.6,824.8 198.3,776.1 267.5,781.0 198.7,846.9 367.3,686.6 189.4,850.2 184.2,845.2 409.4,648.9 252.7,799.8 350.4,599.2 346.0,723.7 249.7,797.9 356.3,598.7 348.2,706.5 269.0,786.4 307.6,753.8 199.1,845.7 184.7,823.9 169.8,796.1 231.8,821.4 314.9,736.7 247.1,808.4 359.1,706.6 355.1,689.1 363.2,701.9 188.3,835.6 288.0,769.9 443.2,563.4 332.0,610.2 292.2,648.8 161.7,846.8 366.4,698.6 330.2,722.0 316.0,741.0 443.8,603.7 381.9,687.3 367.3,589.6 230.4,743.8 487.3,535.0 240.5,707.9 409.8,566.3 266.7,788.9 165.6,846.9 200.0,847.6 424.9,568.1 336.7,719.1 293.7,767.1 191.5,820.7 383.0,676.9 326.0,740.1 426.5,637.9 347.2,715.7 468.8,623.1 431.8,551.2 400.6,674.3 436.4,630.6 397.9,674.6 350.4,707.3 318.2,721.2 252.3,799.6 331.1,729.9 281.6,642.5 276.2,656.9 188.5,768.0 437.0,644.5 477.1,541.5 166.0,841.9 430.4,640.2 257.2,791.0 218.5,832.2 242.9,782.9 324.8,703.7 284.5,638.8 457.7,632.4 271.5,771.1 299.8,749.9 327.1,617.9 348.7,721.5 244.3,691.2 273.1,655.5 397.9,644.8 292.4,768.7 366.9,687.2 167.8,853.3 285.0,638.8 467.5,626.6 158.9,849.1 359.0,702.2 374.2,688.3 236.4,699.0 420.6,573.4 296.2,765.2 469.9,601.8 220.8,725.5 460.6,626.9 480.7,538.8 253.4,779.2 204.4,842.0 412.4,660.0 448.5,619.4 457.0,635.3 280.3,759.3 382.8,688.2 288.5,656.7 363.7,611.2 402.2,562.2 462.6,617.1 367.6,661.4 298.3,750.8 241.8,811.5 178.9,846.3 450.6,633.5 269.2,675.2 287.7,767.7 188.8,849.8 404.7,562.7 260.4,791.5 385.2,577.3 226.7,723.2 372.0,682.1 275.0,647.9 392.7,671.0 402.2,650.2 273.3,653.9 389.2,657.9 372.0,696.4 419.3,553.3 444.0,640.6 238.4,800.2 368.0,605.2 198.3,830.0 257.8,788.0 465.1,599.6 241.5,778.5 470.2,625.5 213.6,743.1 283.4,773.5 384.7,690.2 180.4,836.7 220.7,728.7 373.5,683.9 199.1,758.0 161.9,851.2 290.7,635.2 205.3,840.6 314.1,752.6 223.4,721.1 368.0,700.2 470.5,606.9 380.6,669.1 206.4,758.6 408.2,644.8 195.0,846.0 233.6,709.3 455.5,543.2 400.9,668.2 454.4,612.6 289.7,642.5 235.2,821.7 171.5,851.8 460.9,598.8 393.3,677.3 273.8,773.1 486.2,597.1 225.8,829.3 196.5,842.7 317.1,731.9 344.0,603.0 351.0,714.9 259.7,674.1 246.0,784.4 175.4,853.4 477.8,551.9 428.8,645.5 253.8,774.6 215.7,737.7 263.4,786.2 461.5,627.1 346.0,605.2 357.1,704.2 411.4,557.2 322.0,741.6 257.1,768.7 394.4,681.4 404.6,665.6 206.5,827.2 328.9,623.2 440.8,613.2 191.2,830.7 192.8,823.9 183.3,841.6 425.7,646.4 284.4,774.4 304.9,759.0 443.9,608.5 434.6,558.6 326.4,739.1 253.2,802.9 361.2,685.3 374.0,686.7 208.3,841.8 274.2,764.7 450.0,543.0 468.1,601.0 298.2,641.9 334.5,700.3 326.4,727.1 231.8,802.9 222.8,722.3 458.4,606.9 263.7,784.5 478.6,595.9 365.6,589.6 201.9,841.1 177.4,842.7 332.0,731.2 328.3,737.0 349.1,713.1 238.9,804.9 353.2,710.0 185.5,833.7 300.7,754.0 345.3,722.3 486.9,586.3 185.1,774.0 434.9,626.6 401.6,667.8 384.9,584.9 410.7,666.8 247.6,685.7 429.6,644.5 173.6,781.5 268.0,752.5 252.3,678.6 267.2,773.6 160.8,848.4 487.5,537.2 380.0,590.1 305.2,630.0 454.4,622.5 212.7,738.9 482.8,535.7 346.4,606.0 420.9,562.2 170.1,802.5 226.8,818.2 461.6,630.7 209.7,832.4 229.4,800.8 384.2,680.2 162.1,848.4 451.1,628.9 399.7,669.7 248.8,771.0 215.5,823.4 392.2,675.5 423.6,555.5 298.5,762.8 428.4,630.8 218.8,822.2 361.8,599.3 162.8,854.3 203.7,844.3 407.8,669.9 469.2,624.1 180.9,849.4 426.5,566.5 420.2,636.0 414.2,640.3 293.8,635.4 342.2,616.0 392.5,666.7 417.9,655.7 475.8,615.1 221.5,831.8 224.2,821.3 238.2,818.1 347.9,705.4 408.2,667.5 360.6,594.8 381.6,691.5 384.8,669.3 252.0,782.9 353.4,707.8 226.0,825.2 347.6,705.9 366.3,688.7 289.8,767.3 164.8,831.8 411.9,657.0 356.7,603.0 478.0,596.0 189.1,848.3 310.7,757.1 367.9,599.4 191.9,762.6 239.1,814.0 265.0,664.9 186.4,850.0 414.7,661.4 318.0,735.9 404.8,674.7 416.4,560.7 189.6,774.0 180.7,771.6 328.7,729.9 460.3,614.5 346.1,717.0 280.0,742.9 230.4,822.9 247.4,687.5 357.2,604.6 243.6,810.2 360.3,688.1 170.4,836.9 162.2,813.3 223.5,816.8 293.0,738.0 164.8,852.5 404.4,667.1 219.5,740.6 310.8,748.0 257.5,789.1 219.1,829.9 199.5,847.7 287.3,763.5 484.5,601.0 301.6,631.5 202.0,847.5 233.9,804.3 362.5,602.9 206.5,757.0 213.2,737.7 205.3,750.0 235.7,710.5 294.5,756.5 208.1,745.2 460.1,633.8 204.7,836.4 270.7,734.1 331.6,732.5 410.9,565.5 381.1,669.5 208.3,838.0 430.2,570.4 482.9,536.3 259.8,755.3 445.2,638.6 415.5,661.3 314.5,620.5 356.2,695.0 478.9,612.0 451.2,634.7 165.8,804.2 367.0,593.0 255.7,788.2 160.9,834.2 283.8,771.2 183.0,781.4 460.2,614.3 339.1,723.5 205.0,749.8 351.6,714.6 361.8,676.7 467.7,625.9 332.9,725.3 272.7,655.0 382.8,683.3 406.6,587.8 250.9,797.1 417.6,564.0 388.9,638.3 383.6,584.7 426.9,650.7 311.7,627.3 254.4,784.9 477.0,612.9 298.8,747.8 414.2,556.9 165.6,836.4 309.2,750.4 235.7,703.4 403.3,662.1 205.8,835.5 352.9,601.8 196.5,824.2 407.6,653.7 383.1,688.8 228.6,809.1 392.6,684.4 375.8,694.7 413.3,655.4 232.7,707.6 399.1,681.6 472.1,619.6 397.1,570.8 281.2,776.0 301.1,651.2 455.4,602.6 379.2,652.5 211.3,838.6 389.3,655.5 453.7,635.0 234.8,721.1 472.2,616.7 341.5,606.6 319.1,724.4 223.0,826.9 399.0,568.8 346.0,703.7 202.0,837.1 297.3,734.3 223.1,735.2 485.2,603.6 321.2,623.6 334.8,619.2 349.7,718.7 377.2,587.1 422.8,653.3 416.2,639.9 160.5,839.9 437.4,640.5 232.3,814.7 356.1,686.9 341.9,605.2 183.4,848.0 225.5,821.3 400.3,652.4 318.8,746.8 246.2,805.6 285.5,749.4 172.2,836.7 173.3,848.6 246.0,685.2 277.6,646.2 403.6,676.0 363.7,698.9 419.2,555.5 278.5,776.9 228.1,714.7 257.3,793.8 253.7,784.8 320.4,736.6 229.4,825.8 465.4,596.8 179.7,840.6 451.4,615.6 220.5,820.6 409.6,660.1 284.8,640.8 181.3,849.6 377.3,694.6 450.7,543.9 245.5,799.5 177.0,848.5 427.4,640.1 375.0,668.9 164.4,853.4 252.5,788.4 392.4,574.9 380.9,579.1 263.2,786.5 175.8,847.2 433.1,639.3 174.5,788.9 432.9,629.1 284.6,765.5 311.5,752.7 195.2,765.6 288.0,639.2 325.8,723.0 447.7,638.5 294.9,759.6 213.9,808.1 392.3,680.1 239.1,811.0 484.2,538.5 300.3,754.0 180.8,834.2 217.4,790.1 318.0,734.8 257.7,795.8 283.6,770.3 286.7,752.2 234.3,820.8 261.7,786.8 390.4,658.3 303.8,757.5 384.7,589.6 459.2,610.7 413.6,652.6 328.2,624.5 195.0,847.3 352.4,715.2 299.0,764.7 355.2,664.1 289.4,739.5 252.4,713.5 476.6,612.2 273.4,783.1 322.8,719.1 422.7,559.8 372.4,691.2 243.3,796.1 202.0,752.0 334.0,731.5 417.7,561.4 339.6,711.3 358.7,702.0 259.9,789.7 477.3,615.6 448.8,622.1 476.2,613.4 466.6,627.7 168.5,852.4 252.8,698.2 222.0,821.4 298.0,636.6 161.4,853.1 349.9,626.8 267.1,733.4 166.8,841.1 391.0,679.9 216.1,796.9 320.3,741.2 445.4,639.3 237.0,699.9 270.4,759.2 357.0,692.6 371.8,686.9 475.3,608.8 477.1,557.9 286.0,762.8 376.2,602.7 259.8,790.8 263.4,784.8 203.4,827.5 274.6,769.5 288.3,637.9 353.3,680.3 212.4,738.2 352.8,715.1 382.9,690.9 285.1,749.8 472.4,538.2 357.3,711.3 420.5,555.6 345.6,602.7 232.2,815.3 403.7,672.1 432.1,644.3 363.3,691.0 355.9,595.4 368.3,586.8 260.9,667.6 429.6,559.7 182.1,842.5 196.5,849.3 341.0,717.3 412.1,652.9 477.8,608.4 483.8,605.3 183.1,785.8 292.4,768.9 360.0,596.4 376.3,695.6 476.2,620.5 249.0,682.6 373.1,588.1 415.7,659.3 285.3,769.5 414.4,653.6 345.8,683.8 430.2,554.4 450.8,631.1 409.0,575.0 417.5,647.0 290.1,767.5 449.8,542.6 380.3,690.2 250.9,686.2 336.3,727.0 303.5,641.1 442.0,638.8 252.5,795.2 369.6,699.0 244.7,789.6 214.7,839.1 357.4,700.3 374.3,685.0 245.5,805.5 470.5,626.7 194.5,848.5 237.0,814.7 421.1,640.5 199.8,848.9 391.0,682.0 428.8,645.5 240.4,694.2 299.5,756.2 415.8,560.7 423.6,652.1 186.6,771.6 339.0,729.6 430.3,626.6 476.5,618.0 309.2,732.0 275.5,759.7 320.5,740.0 433.5,547.4 371.2,698.0 189.8,844.4 281.8,755.6 201.9,840.4 279.6,762.0 379.4,653.7 444.6,637.4 427.3,553.4 175.0,777.6 313.5,753.0 196.3,767.5 267.7,773.6 289.7,764.0 201.2,848.3 308.8,757.6 307.0,625.8 214.3,825.5 484.2,538.9 333.0,612.7 174.9,827.5 308.7,754.8 329.6,689.9 340.3,727.2 239.0,786.4 173.6,841.9 408.9,574.3 408.2,559.7 389.7,594.0 375.3,691.6 291.1,634.9 222.7,810.3 417.6,562.5 384.1,688.7 303.5,761.3 449.9,616.7 310.2,743.4 388.9,584.0 240.5,803.7 365.9,691.2 182.1,836.6 465.3,538.9 299.2,641.8 367.8,673.1 267.9,771.8 384.6,684.7 197.8,844.1 244.2,803.4 472.4,625.4 162.9,841.7 364.7,685.1 469.8,542.8 470.5,624.9 203.9,750.7 186.7,833.3 278.7,777.0 451.6,626.4 187.6,776.8 360.3,705.1 183.4,840.7 264.0,732.8 191.9,837.3 269.9,652.8 308.1,748.7 433.5,635.6 484.0,604.0 346.9,692.3 429.1,647.3 251.5,798.2 212.2,827.7 195.5,848.6 369.9,587.9 254.9,683.2 396.2,569.1 293.2,638.3 327.3,624.7 393.5,681.4 359.3,704.6 369.3,654.0 442.1,632.7 217.9,745.4 227.1,802.9 316.5,744.8 214.9,825.9 202.5,844.1 313.9,733.8 367.7,679.7 268.7,765.3 287.2,755.2 260.4,774.0 354.4,686.7 286.7,768.3 476.6,620.6 247.9,686.2 380.3,691.1 285.4,759.3 484.1,589.0 170.1,850.7 374.0,584.4 376.5,694.4 161.3,849.9 366.1,684.9 431.3,633.7 327.1,704.9 311.4,753.1 396.4,681.0 463.1,626.8 476.5,537.3 371.3,696.2 443.5,629.0 285.1,757.5 328.0,738.5 418.6,557.3 227.9,827.9 273.1,779.3 285.8,641.8 354.5,702.5 327.2,735.1 373.6,584.1 216.8,758.2 435.6,626.7 276.2,743.4 466.5,618.5 433.6,627.7 254.5,798.7 385.9,672.6 326.7,723.9 290.0,769.1 286.0,637.9 315.3,739.9 315.3,621.7 294.0,637.8 464.0,546.9 432.6,645.6 197.6,837.7 165.6,843.2 295.1,765.7 416.2,574.1 200.6,845.0 188.0,771.6 412.2,641.8 246.7,811.2 429.1,570.7 218.3,836.8 367.9,685.3 462.4,627.6 379.9,680.7 340.4,610.0 314.9,625.7 347.1,718.8 258.0,795.3 291.0,764.4 292.0,769.6 403.1,661.5 390.1,573.4 245.7,788.9 192.4,763.3 435.0,568.8 404.0,668.3 333.3,731.8 245.3,697.0 450.5,628.9 166.2,849.7 375.5,691.9 291.1,639.1 353.2,716.7 385.9,664.6 434.5,643.8 218.6,817.6 246.5,778.1 487.4,535.2 340.1,724.4 282.0,742.9 219.2,826.1 458.5,625.7 329.1,729.5 313.2,754.2 400.2,665.9 357.2,697.1 464.7,616.1 295.0,733.6 189.3,849.2 247.7,808.4 265.1,778.7 461.3,543.9 467.4,624.2 311.2,738.1 254.4,779.4 161.1,854.5 482.5,594.3 369.8,676.1 370.6,691.3 277.5,773.3 254.1,797.0 470.6,612.3 471.4,600.0 448.5,630.2 289.2,654.6 303.4,758.8 447.8,614.1 399.8,631.4 272.8,658.1 457.8,634.6 345.2,624.6 427.5,549.8 313.2,746.2 326.7,732.6 213.2,799.4 361.5,704.6 334.0,609.6 220.8,824.2 372.3,695.6 201.4,817.2 199.2,844.7 469.2,614.3 342.6,628.9 435.0,637.1 340.1,606.2 444.1,636.7 475.4,560.0 422.8,644.4 375.8,646.5 248.1,767.4 429.9,648.8 213.5,839.6 240.3,783.0 252.1,802.5 340.5,714.7 359.4,595.6 358.3,695.6 333.0,727.8 261.1,780.2 486.7,577.5 383.5,579.4 482.2,611.3 438.1,640.2 398.1,653.8 404.6,570.3 356.1,709.9 421.2,654.5 162.3,848.1 459.7,616.4 184.6,769.2 470.1,557.3 397.5,677.0 368.7,588.6 218.7,814.1 163.8,851.5 422.6,554.6 174.0,850.7 450.0,633.3 397.9,668.4 366.8,696.6 300.7,763.7 284.4,760.8 401.8,569.6 239.2,817.5 163.1,804.5 197.9,841.9 443.1,624.2 288.1,638.5 306.9,640.6 328.5,739.5 254.9,671.2 271.3,769.4 384.2,685.1 226.0,799.7 191.7,824.8 204.9,823.8 297.0,746.2 331.5,735.3 366.4,682.7 248.7,801.9 393.4,681.7 430.6,619.4 396.1,567.3 357.9,699.4 438.9,643.2 194.4,839.0 333.1,723.2 251.7,682.6 249.5,793.6 308.3,747.6 264.7,784.6 319.6,617.5 412.9,646.8 360.8,703.3 256.5,677.6 253.7,678.4 160.6,804.0 390.9,582.2 221.2,829.8 406.7,653.3 439.4,643.4 429.6,635.4 374.3,695.8 438.8,641.6 192.8,839.5 388.4,680.6 428.9,549.9 448.7,622.6 338.8,620.9 299.7,756.4 360.2,701.8 222.9,831.9 252.7,779.4 369.4,593.4 191.4,840.2 196.3,848.7 221.6,721.7 465.2,630.5 420.9,654.8 304.6,631.8 391.8,577.8 352.3,715.8 278.5,775.1"/>
<polyline class="g" points="317.6,770.5 297.6,770.3 422.1,675.0 431.4,679.5 258.1,814.9 299.7,839.9 418.6,725.7 337.6,780.1 378.0,721.8 318.0,777.7 402.3,719.9 249.1,825.5 302.7,802.0 300.2,795.7 460.2,681.0 281.0,797.7 277.1,790.0 330.9,779.0 471.8,654.9 429.2,677.1 368.9,710.4 252.6,827.3 393.2,746.1 321.2,795.8 382.0,700.8 317.9,818.4 253.4,824.0 410.4,672.7 403.3,695.7 281.9,796.9 267.0,797.1 310.7,769.0 230.6,830.9 416.1,715.6 470.8,641.6 364.3,725.1 352.8,744.1 397.3,703.2 469.8,637.7 318.9,770.8 284.0,823.2 439.3,691.9 382.9,701.5 245.5,839.8 330.2,746.3 295.7,780.7 375.2,730.5 311.3,767.3 379.1,697.7 319.7,814.7 337.9,774.3 313.6,775.7 201.3,852.2 407.6,690.2 453.0,644.8 275.7,829.4 372.8,752.9 229.6,840.5 255.4,818.3 471.9,638.2 360.4,721.6 233.8,829.3 413.6,676.2 320.7,763.1 428.3,662.9 457.8,648.6 387.8,711.5 227.4,837.8 283.7,828.9 442.8,644.2 334.1,736.1 381.4,695.9 460.9,650.4 256.4,825.5 354.4,729.2 459.4,640.3 478.5,633.5 343.6,781.7 259.5,818.9 249.2,820.8 418.7,664.6 294.8,802.4 355.4,732.0 461.4,663.7 316.9,786.2 351.6,739.2 298.2,813.3 325.7,762.0 273.8,823.5 389.5,695.2 332.8,769.3 446.1,652.3 326.3,760.0 343.3,739.5 309.6,765.1 340.5,736.3 381.6,742.6 278.4,780.7 466.9,652.5 275.3,814.8 434.9,655.5 439.4,678.5 332.0,741.4 399.5,688.1 399.9,685.1 303.2,774.4 479.7,633.9 228.4,846.0 469.1,656.6 358.7,729.9 434.5,666.0 230.1,834.9 276.2,791.4 273.5,790.3 210.8,846.0 321.4,817.0 395.3,710.2 339.0,756.4 456.9,639.7 366.6,715.8 448.7,686.5 469.6,637.3 329.5,743.9 356.6,728.4 306.1,781.7 290.7,836.3 310.2,760.9 383.1,729.9 444.9,680.9 380.5,705.5 452.3,645.7 235.1,838.8 303.0,797.7 262.8,795.8 376.6,728.2 305.2,799.2 277.5,783.0 266.5,808.6 375.5,705.5 347.3,745.7 301.4,779.1 445.5,657.9 293.5,796.7 475.2,634.4 421.7,680.8 253.3,822.8 267.5,803.2 422.9,659.3 283.9,782.1 413.0,674.2 346.0,756.8 390.4,722.1 406.5,705.7 366.7,713.8 288.0,814.0 347.6,800.7 391.0,699.0 408.8,680.3 345.9,791.6 396.2,704.0 287.3,783.6 422.0,683.8 312.8,781.3 372.4,711.9 433.4,671.9 398.4,684.0 253.0,831.7 298.1,800.0 358.7,760.1 329.2,741.2 467.6,636.2 382.1,700.3 295.3,780.9 298.1,769.0 227.0,840.7 440.5,652.7 265.0,805.8 335.6,749.0 432.5,674.3 303.2,792.5 323.8,749.2 389.5,713.7 307.2,763.8 396.2,710.1 238.8,840.1 412.7,708.3 364.5,725.3 307.5,765.1 363.1,771.6 376.2,701.1 223.2,841.6 405.2,725.8 324.7,767.3 465.6,642.5 440.8,669.3 373.2,708.5 479.7,620.8 242.4,829.7 416.1,674.6 297.3,779.7 416.8,669.6 277.2,813.4 225.1,842.0 293.4,784.5 233.0,827.8 232.8,831.2 282.8,784.1 470.5,652.8 374.9,703.7 402.4,689.5 413.1,691.9 457.8,646.4 482.6,625.2 347.3,761.7 321.1,767.5 334.4,805.3 324.6,747.8 236.9,825.2 308.3,804.7 403.2,704.3 322.9,748.3 422.4,670.5 268.6,826.4 446.5,644.6 410.0,721.8 438.8,668.0 444.8,654.7 301.4,796.1 465.0,647.9 286.8,820.4 326.7,762.0 288.5,804.1 364.3,738.0 252.5,812.1 305.2,787.6 267.4,807.6 452.5,660.2 356.7,736.4 458.1,641.7 370.3,741.0 461.7,645.0 341.6,744.1 347.9,740.6 258.4,815.4 307.5,773.0 284.5,822.8 349.1,742.0 328.2,757.0 324.8,787.8 235.0,824.4 343.3,744.0 326.8,764.1 312.7,761.7 295.6,777.0 393.5,693.0 253.9,808.8 213.0,849.6 363.5,713.5 311.1,780.3 243.8,820.7 323.6,760.2 312.7,798.0 384.5,744.0 381.6,699.4 385.9,706.0 282.2,800.8 231.9,831.8 304.5,829.3 371.4,711.4 403.2,687.2 292.8,790.9 288.6,782.7 326.1,766.7 456.2,658.4 281.9,795.9 412.9,682.1 389.1,709.5 409.5,698.7 318.5,760.9 338.9,765.7 240.3,832.6 315.3,760.5 255.1,805.7 326.3,793.0 424.9,667.8 339.6,765.8 370.8,730.0 347.9,774.5 329.0,759.1 301.7,772.9 410.8,679.5 253.6,807.3 353.5,751.6 481.7,624.9 362.8,756.2 296.3,777.3 357.7,731.7 225.4,837.3 368.4,712.6 344.9,769.9 433.1,690.9 460.8,645.4 252.8,823.4 309.8,767.1 229.3,837.7 435.5,684.0 285.3,782.4 441.9,653.2 458.4,652.7 320.3,761.8 391.3,698.9 389.2,704.8 359.4,719.7 427.0,666.5 296.2,781.3 262.7,831.0 462.7,646.9 265.7,811.7 408.5,712.0 304.8,780.3 418.6,688.7 314.6,765.8 398.8,691.5 275.1,790.1 390.6,700.8 390.4,690.0 225.2,837.1 384.2,693.9 296.0,791.3 359.1,715.8 298.1,771.1 272.0,792.8 385.7,698.9 335.4,772.5 291.8,792.3 392.0,702.4 356.8,745.0 273.1,791.1 322.3,791.7 406.6,740.6 359.8,719.2 461.8,649.5 386.6,693.5 472.9,632.2 342.1,746.0 391.3,714.2 240.4,845.2 457.8,658.6 389.3,725.7 405.1,726.6 451.9,652.9 356.4,774.5 267.6,795.6 287.8,802.7 312.9,763.9 274.2,807.2 301.8,771.7 285.1,800.6 301.6,789.9 268.5,827.8 262.3,806.1 391.2,694.5 460.5,644.6 409.3,687.2 375.7,717.3 435.9,670.4 274.8,792.0 407.7,708.5 211.0,844.3 368.6,709.2 388.5,705.5 446.8,657.9 447.5,669.1 225.5,836.9 330.2,784.5 361.3,719.4 352.2,749.4 420.3,680.0 415.9,667.8 189.9,854.8 348.4,782.6 193.4,853.1 355.9,727.7 233.8,846.5 472.7,641.4 331.8,773.4 323.7,778.8 448.0,660.7 402.3,697.9 278.9,805.2 258.3,802.8 209.5,848.0 269.0,831.0 475.2,636.3 349.6,756.4 366.4,738.7 405.7,711.3 468.5,634.0 346.7,729.8 300.9,778.6 249.1,818.9 474.6,632.1 324.8,762.1 303.9,772.2 296.3,783.0 384.5,716.4 360.1,745.2 413.0,679.6 462.2,658.9 382.5,701.1 248.4,840.5 221.0,846.7 468.9,641.0 445.1,655.3 317.0,757.7 227.2,833.6 420.4,661.3 353.7,752.9 376.3,726.0 398.4,689.7 253.0,810.3 295.4,832.3 273.3,808.4 383.1,710.4 412.8,699.5 372.6,703.2 346.5,757.3 332.6,753.5 266.8,795.0 272.5,831.9 277.0,798.3 365.3,748.9 417.2,720.6 349.3,787.8 392.5,690.8 424.1,664.6 458.7,669.4 284.3,779.0 275.7,821.2 439.6,663.4 262.9,822.8 429.7,672.0 200.3,854.5 376.2,716.3 295.2,779.6 332.3,769.0 270.4,804.4 479.3,627.4 472.7,632.7 328.8,792.7 232.8,842.8 215.3,851.3 308.0,792.6 419.5,675.8 351.6,726.0 334.5,742.6 396.5,692.7 407.3,704.2 399.9,690.0 447.0,669.7 272.0,824.3 485.7,606.0 296.5,775.6 329.5,759.5 315.1,774.3 475.6,636.4 419.9,677.7 315.8,798.2 246.1,827.7 307.9,772.0 405.3,697.9 332.1,742.3 275.7,788.8 337.4,812.7 413.3,685.2 326.9,788.8 393.7,695.2 418.3,671.7 361.5,714.5 393.1,698.7 403.2,704.5 384.3,700.1 387.3,703.2 261.7,805.6 325.2,806.5 320.6,797.4 392.3,714.8 456.3,685.4 264.3,814.0 460.7,638.3 293.4,806.1 269.0,805.3 363.1,733.7 320.0,757.5 427.1,656.6 315.8,782.0 393.1,702.1 392.9,713.5 481.2,620.9 306.4,770.0 255.2,824.6 271.7,814.3 294.8,785.8 366.0,712.1 403.2,701.8 285.0,785.8 224.4,837.6 395.0,709.5 307.2,831.5 265.6,795.0 378.2,698.6 467.1,644.5 205.8,852.6 385.4,723.7 317.0,766.9 415.4,685.8 341.1,741.3 261.0,800.2 409.8,688.0 379.3,698.7 356.2,722.5 302.1,776.8 298.0,795.4 274.3,802.3 343.6,781.2 391.9,742.5 259.7,803.2 352.5,762.4 243.2,839.7 353.9,778.5 321.0,771.7 385.2,714.7 214.4,846.4 358.6,721.9 249.9,812.5 359.6,736.7 416.1,697.5 395.9,706.0 472.3,631.6 407.1,690.8 373.2,714.3 319.2,771.9 246.9,819.3 359.8,730.2 399.9,720.7 394.0,726.1 269.8,808.2 244.6,824.5 390.1,699.2 373.1,711.1 188.1,853.7 268.0,824.0 379.8,702.5 436.5,678.1 445.2,647.4 285.5,823.7 249.9,836.1 476.4,631.9 307.4,772.5 293.0,780.8 261.6,809.3 332.1,795.2 398.6,700.5 349.2,725.1 411.1,675.9 470.5,637.3 305.8,784.3 468.4,634.7 294.0,806.7 310.8,798.7 300.1,767.7 427.0,673.5 453.2,646.0 463.7,659.0 392.9,738.0 293.6,801.6 343.6,740.1 326.6,779.7 476.3,631.8 334.2,749.6 358.2,746.0 407.9,677.6 351.7,750.6 301.2,807.9 386.4,710.2 224.6,838.3 453.4,659.0 276.1,818.5 261.9,804.9 368.1,714.5 235.8,828.8 338.7,738.8 242.2,830.9 322.8,807.2 366.4,731.9 396.8,730.4 392.3,738.0 301.8,788.8 318.1,771.0 425.0,655.8 328.0,751.4 336.3,740.9 374.7,714.7 253.7,808.4 304.3,772.6 459.5,647.1 400.2,711.6 303.4,792.1 398.7,689.8 264.1,793.9 400.4,694.4 462.2,640.6 429.9,706.8 369.9,714.8 322.7,754.8 443.3,652.4 236.7,837.5 353.8,726.5 393.7,701.1 333.6,753.7 457.9,668.9 462.4,643.1 330.2,774.9 246.1,819.7 249.5,827.2 227.5,843.7 265.9,793.4 385.1,704.2 382.8,740.9 323.9,803.7 264.6,793.5 377.1,718.6 268.4,801.7 418.6,688.0 458.3,640.9 404.9,682.9 270.8,809.4 258.7,832.6 373.6,741.3 481.2,624.1 294.5,788.9 398.8,701.1 424.2,658.4 267.4,824.5 302.5,773.5 480.9,618.2 321.4,782.0 479.6,629.7 209.9,849.7 287.6,776.0 335.1,739.5 432.9,667.2 275.6,821.5 220.7,837.3 442.4,663.2 367.5,731.9 348.3,761.9 258.4,812.8 246.9,837.0 319.1,756.2 387.5,710.7 376.2,761.1 323.1,770.8 280.2,792.8 412.9,681.7 305.1,770.2 360.2,748.4 453.0,650.7 238.8,827.7 328.7,749.3 256.9,805.7 317.2,813.3 373.9,718.7 367.5,706.6 415.4,717.9 431.9,688.2 274.2,791.4 425.3,670.7 425.8,699.7 420.5,669.1 466.6,631.5 318.1,775.8 269.0,795.7 306.2,814.4 275.3,793.1 349.5,776.2 417.3,663.7 316.3,786.5 427.2,670.6 362.0,732.7 242.1,827.5 360.7,721.6 384.8,694.5 389.4,732.3 325.2,762.5 410.6,705.4 429.2,673.0 370.4,720.9 377.2,755.2 269.0,799.1 344.8,752.8 361.2,745.4 277.0,815.3 284.0,792.5 275.8,814.5 335.2,737.5 283.3,778.3 346.6,739.7 350.2,741.5 354.8,729.3 262.6,810.3 381.9,714.8 352.3,719.9 320.7,765.5 445.7,644.0 395.9,734.6 336.7,739.3 326.3,747.7 249.9,815.2 258.3,823.1 308.6,791.9 409.0,721.8 431.6,676.0 245.8,822.8 378.2,725.6 398.7,692.9 444.9,645.9 392.8,711.5 329.7,757.0 196.7,851.2 315.2,795.1 437.7,650.5 325.6,759.5 353.7,748.1 190.8,853.2 372.6,720.8 448.1,674.6 279.8,784.9 383.6,712.0 216.3,845.3 179.5,852.0 241.7,841.7 296.1,787.7 463.1,639.8 372.4,727.2 433.6,667.7 409.1,698.1 397.8,732.2 298.8,783.5 384.8,722.6 372.8,736.3 467.7,655.2 303.4,784.3 293.7,809.5 354.5,732.8 431.1,656.6 434.2,669.9 452.6,669.9 369.1,711.4 324.2,752.2 252.6,827.1 271.8,819.4 449.6,648.5 413.4,699.4 454.5,683.8 344.9,732.1 426.4,658.6 328.7,795.3 394.9,696.7 324.0,752.1 321.4,748.7 340.9,740.4 316.1,763.4 294.1,807.8 297.4,777.9 256.1,812.2 394.4,712.4 425.4,667.9 394.3,713.7 469.0,630.9 381.9,703.1 471.9,645.9 195.0,853.5 424.1,670.9 237.9,841.0 449.7,675.3 349.3,786.7 390.2,690.7 473.1,647.6 425.0,669.0 423.3,659.7 275.2,790.4 332.8,763.4 326.0,794.8 351.7,735.2 432.2,672.9 357.4,720.6 386.2,748.0 311.7,776.0 454.9,642.3 319.8,794.3 371.3,728.8 293.0,785.8 389.5,694.5 317.5,761.3 462.3,673.2 369.1,711.7 418.1,668.9 454.8,651.0 325.3,755.2 347.8,781.1 269.1,793.5 320.2,788.2 276.5,781.9 347.4,756.0 361.6,713.5 443.9,650.0 468.7,644.8 268.6,809.1 388.0,691.5 335.9,736.9 309.0,797.5 346.9,742.9 392.3,696.8 279.4,809.8 475.4,645.9 390.3,734.7 274.8,808.4 418.7,673.3 338.4,740.1 248.4,816.1 302.7,789.2 451.2,644.6 228.9,835.4 265.7,835.5 335.1,754.6 261.6,802.6 416.7,676.7 297.6,769.5 360.2,720.8 251.9,842.4 196.1,854.5 426.3,672.4 317.8,778.8 288.3,819.4 439.4,647.4 369.4,734.3 431.0,688.5 216.3,841.2 359.4,748.7 433.1,667.1 297.0,803.0 315.0,777.4 362.8,738.4 416.0,717.0 408.3,683.6 402.0,683.5 395.9,700.2 280.6,798.9 282.2,834.7 422.3,680.9 378.3,719.5 234.6,829.1 333.5,754.9 409.0,707.7 411.3,675.8 468.1,653.8 443.7,658.6 444.8,660.4 318.8,769.4 266.0,802.1 388.2,711.5 421.5,680.6 279.2,791.7 278.7,782.2 436.4,657.0 366.4,745.5 429.9,653.7 278.3,787.0 428.2,667.5 421.3,661.7 219.9,841.5 449.2,661.1 441.3,646.0 298.6,783.2 460.7,644.4 407.6,705.1 381.4,720.3 348.3,741.8 463.1,636.3 387.2,717.9 255.4,819.4 400.1,692.0 353.3,732.6 260.1,818.9 275.2,819.5 269.0,806.7 301.6,769.1 299.4,780.8 402.9,690.4 280.4,785.7 411.7,675.9 421.2,658.6 295.3,793.4 359.9,754.6 401.4,710.4 301.8,814.8 254.3,816.5 386.1,709.3 337.0,758.2 279.2,780.7 271.6,813.6 295.9,788.9 429.1,664.1 406.0,712.9 480.7,620.7 250.6,818.6 409.4,677.7 421.4,670.1 288.1,786.7 365.3,746.1 418.6,664.7 358.8,720.1 482.2,618.6 360.6,740.0 249.0,821.0 348.8,762.9 342.7,731.0 311.4,771.9 329.4,755.6 375.6,710.8 264.3,803.5 267.3,813.9 417.1,666.4 391.8,689.7 401.7,688.7 227.5,841.5 282.6,818.8 357.6,756.3 416.9,709.4 284.4,804.2 380.9,695.6 391.4,716.4 210.4,846.3 370.2,718.2 333.2,755.0 406.8,689.5 396.5,701.2 280.2,798.0 194.9,850.4 321.7,792.6 403.9,680.2 334.6,768.3 303.8,810.2 230.9,837.2 399.7,686.4 302.0,776.2 402.7,693.5 313.4,791.7 226.7,836.9 411.5,687.7 284.6,812.7 465.5,642.6 357.5,746.5 300.6,782.4 467.3,632.6 405.4,679.5 266.3,796.3 281.6,806.8 435.1,655.6 472.5,640.6 401.2,722.6 231.5,837.1 378.8,726.3 385.9,710.3 262.4,806.9 253.1,804.3 245.3,843.0 263.7,796.8 439.3,691.0 267.6,799.5 307.8,776.6 458.5,661.1 199.9,853.2 403.0,711.7 455.6,651.6 436.9,683.6 224.2,839.0 283.9,817.5 476.2,625.6 459.4,664.4 437.3,656.9 414.0,691.8 406.0,679.4 286.5,794.5 255.8,818.7 340.9,741.1 266.0,821.3 280.3,811.1 392.1,735.5 396.2,688.7 411.6,677.0 278.1,814.9 376.2,722.3 244.4,820.0 235.1,845.7 277.1,806.7 248.4,827.8 419.2,667.4 371.0,701.1 263.2,814.9 350.5,725.5 310.7,768.9 363.4,751.3 364.4,708.5 335.8,753.1 262.8,830.3 326.6,748.1 297.0,772.1 265.0,825.7 354.4,728.2 463.0,639.1 386.4,697.6 421.2,699.7 350.8,769.9 443.2,644.4 338.1,738.0 323.6,747.2 389.5,694.4 377.7,734.2 370.8,705.1 279.2,790.2 326.5,767.5 394.0,690.4 241.1,827.1 380.4,735.1 297.9,821.0 397.8,704.3 340.0,792.1 317.6,767.6 290.4,802.4 278.3,820.2 461.5,640.7 265.0,827.7 289.2,781.7 465.6,642.8 365.8,717.9 333.8,758.1 359.3,721.3 406.0,689.4 383.4,695.2 367.6,718.8 417.5,668.5 363.3,711.3 388.2,696.4 453.2,647.3 221.1,841.2 306.1,814.8 390.8,721.6 349.8,735.4 338.5,764.1 305.2,812.3 366.3,731.1 286.4,789.0 309.2,777.0 481.2,624.4 381.5,695.1 413.1,689.0 278.6,822.6 466.6,634.9 324.6,746.2 197.6,853.1 428.8,703.3 296.1,804.5 373.4,733.6 464.1,652.2 417.1,666.5 303.3,768.3 361.3,728.8 449.9,655.1 386.7,698.1 289.8,817.0 335.5,770.2 454.1,648.8 324.4,753.7 280.3,804.6 356.6,762.6 413.7,676.5 432.8,655.7 360.4,750.8 389.3,693.4 331.9,763.3 342.8,750.8 418.7,666.6 429.3,681.2 345.2,754.8 354.5,760.6 297.3,795.4 250.3,813.3 277.3,791.1 306.4,807.8 386.4,690.9 358.8,731.4 338.9,761.5 348.7,729.5 402.2,704.3 310.1,764.1 451.6,660.9 353.8,760.1 318.5,791.5 384.7,708.9 404.8,711.9 340.9,771.1 414.8,674.2 213.3,845.2 343.0,758.0 293.8,773.5 439.7,683.2 321.9,756.2 434.7,659.8 447.0,650.0 317.4,763.5 264.8,803.9 457.0,663.0 454.6,653.2 269.0,813.8 361.7,750.9 245.2,827.3 370.2,739.4 285.7,781.3 442.5,660.8 430.5,652.9 419.7,674.4 314.6,758.5 398.1,708.8 469.4,641.5 243.9,819.3 261.6,817.8 296.9,776.9 356.8,728.1 268.3,812.0 285.9,818.1 307.0,762.2 265.8,831.3 432.8,659.2 316.6,765.2 229.9,834.5 266.2,814.4 283.1,792.0 336.8,746.3 246.6,845.8 274.6,828.0 326.6,802.9 450.0,645.9 284.9,795.3 293.4,832.4 280.4,811.1 235.2,844.4 435.7,653.4 349.2,750.4 342.9,758.2 364.2,708.1 343.8,762.4 277.7,787.3 282.5,806.8 350.9,724.4 346.3,760.4 287.0,788.4 441.0,653.5 303.8,767.1 272.7,797.5 427.9,686.6 228.0,836.2 442.5,664.5 422.2,684.4 450.4,657.4 429.8,652.2 190.6,854.6 275.8,808.8 472.0,639.3 348.0,742.7 453.1,646.6 319.8,803.3 301.4,780.4 297.9,776.9 479.4,629.4 368.3,710.1 294.0,775.0 469.9,650.5 473.3,633.8 361.6,718.6 447.5,686.9 353.5,731.1 463.8,650.6 388.1,705.1 454.4,676.9 289.9,782.9 379.5,730.4 384.4,720.5 264.5,812.3 425.6,669.1 293.2,776.4 352.3,728.5 428.3,665.4 347.0,768.5 320.4,764.9 428.4,690.4 307.9,779.6 266.8,818.1 274.8,801.0 408.2,695.0 415.5,668.5 392.1,706.9 385.8,699.9 346.7,750.5 461.5,663.3 444.3,651.2 377.0,703.8 307.0,771.5 330.8,742.8 376.7,703.0 349.5,753.0 330.8,788.8 364.5,751.3 361.8,720.3 275.9,792.0 339.0,740.7 448.5,649.0 349.7,746.7 468.4,648.8 460.1,646.7 237.1,830.8 249.8,823.3 396.6,706.4 400.5,691.9 265.2,801.6 260.1,807.8 329.8,798.6 449.1,648.9 430.8,673.6 470.2,633.0 464.4,651.4 251.0,815.8 386.9,709.2 362.8,729.4 483.5,614.1 428.0,666.8 353.7,783.2 382.8,709.5 257.9,824.0 341.8,602.2 166.8,763.5 215.8,685.5 351.5,562.6 232.7,656.3 210.0,689.5 306.6,594.8 223.2,718.1 289.7,604.0 242.4,640.1 219.7,725.0 148.6,800.0 192.5,704.2 295.0,609.7 216.9,650.7 164.6,758.9 325.8,601.5 295.6,602.2 177.2,768.4 404.9,552.9 211.5,666.6 209.4,734.3 259.9,607.9 213.9,660.5 221.8,662.6 302.0,622.9 341.7,560.3 241.1,670.9 153.1,767.5 252.8,650.1 162.6,745.8 142.9,809.5 263.5,640.5 205.5,727.1 258.4,596.8 237.9,679.1 203.9,745.9 196.4,740.4 318.0,618.4 208.8,726.0 357.6,589.4 158.8,759.4 274.7,616.9 192.0,753.4 242.4,661.4 259.5,665.3 187.3,750.1 153.3,798.4 235.8,661.7 265.8,652.2 314.8,569.0 194.9,713.4 230.9,635.0 235.5,623.6 235.5,663.7 267.7,645.4 203.2,704.6 353.8,593.6 156.0,792.8 266.4,600.9 287.3,632.7 227.3,655.3 216.1,658.8 205.2,663.8 162.9,767.3 179.9,738.2 355.2,594.3 161.0,747.4 176.2,711.8 209.0,717.2 294.6,617.5 201.7,674.5 333.2,565.8 162.9,751.7 340.8,586.5 247.7,671.9 247.5,677.1 242.9,643.0 307.9,591.1 344.9,554.8 241.7,615.6 146.4,797.9 358.2,580.2 230.2,668.2 379.6,561.9 188.6,756.7 163.7,769.6 210.4,731.3 273.6,603.9 180.4,701.1 294.1,597.3 155.5,778.2 382.6,577.3 256.3,648.7 292.3,604.8 387.9,549.9 303.6,580.8 337.6,566.4 376.3,562.4 290.7,617.7 239.1,681.7 283.7,626.9 151.0,775.4 178.4,750.0 148.6,783.8 263.7,657.2 401.6,563.1 275.8,584.1 409.3,551.3 150.5,776.1 212.0,685.1 195.6,721.2 192.0,747.2 263.4,660.0 181.5,691.3 451.9,540.3 197.8,713.8 280.2,607.4 350.5,587.4 314.9,603.6 287.6,621.5 412.2,547.0 208.5,717.7 158.2,769.9 322.0,607.4 146.9,803.8 203.5,709.3 265.6,649.8 265.6,635.6 350.9,597.0 232.8,684.8 345.8,602.8 251.7,645.8 358.4,576.2 165.7,766.5 395.0,558.9 237.1,691.5 164.7,771.3 217.0,703.5 347.8,596.7 178.3,721.2 208.1,744.0 266.7,607.2 442.0,545.9 475.5,538.3 241.0,652.8 314.0,571.8 150.1,782.8 165.0,765.2 211.5,733.8 144.0,799.7 370.1,580.0 239.6,607.7 404.6,556.2 218.6,666.2 315.6,607.1 163.1,786.7 244.1,646.2 307.2,591.8 199.4,744.9 275.1,605.0 174.5,767.5 254.3,624.8 345.3,580.5 317.7,600.9 219.8,680.4 169.2,742.7 272.0,629.9 341.1,563.2 214.5,645.9 230.7,647.4 314.2,605.5 170.3,768.6 265.9,633.0 267.9,651.0 245.2,680.5 316.7,581.6 176.7,716.7 227.1,708.6 316.1,574.5 313.2,595.3 239.4,668.8 313.8,603.8 280.0,611.0 363.7,568.0 295.0,613.0 164.1,797.7 258.2,661.1 178.0,743.7 227.4,683.2 214.6,719.0 292.8,588.4 252.5,635.0 344.5,576.0 349.4,566.4 317.6,605.9 216.4,668.5 214.5,727.6 180.4,757.2 238.4,669.8 158.6,798.3 210.2,657.6 226.8,627.6 195.2,702.3 279.4,591.9 197.1,720.6 307.3,565.4 249.9,608.8 317.7,602.6 162.4,732.8 349.3,581.0 288.3,581.9 219.3,706.3 313.6,603.6 166.0,751.7 387.0,552.8 261.6,604.9 298.2,606.6 235.0,637.4 327.3,556.8 197.3,715.8 287.5,634.5 250.5,597.2 251.7,669.8 260.9,620.3 236.8,689.8 205.8,713.5 164.2,749.8 232.8,666.4 301.1,620.5 169.3,770.2 152.9,773.4 240.8,636.9 244.9,679.2 249.7,612.6 249.7,619.0 210.5,684.9 196.8,713.5 400.7,546.5 164.6,769.6 212.8,696.0 212.1,690.4 232.7,687.0 168.7,788.6 236.9,693.0 386.9,546.4 378.1,568.1 258.7,665.4 344.2,595.8 340.3,560.7 450.4,540.3 436.1,542.4 346.5,598.4 370.2,549.8 254.4,650.1 165.6,776.8 235.2,696.5 162.2,787.6 328.6,571.9 218.9,727.2 233.4,692.3 270.7,585.8 255.1,625.7 418.7,551.4 172.6,768.1 310.9,566.2 224.1,707.3 376.2,553.2 344.2,590.9 339.4,608.0 255.5,613.4 198.3,715.7 192.3,706.6 257.0,633.8 168.9,753.5 312.6,605.8 335.7,582.0 213.3,643.9 343.9,590.8 342.7,605.0 385.3,571.7 150.3,796.3 374.3,571.1 293.7,619.6 325.8,568.0 252.0,671.6 265.6,626.1 249.3,677.7 217.2,650.8 180.7,738.2 329.5,589.4 373.3,565.1 270.8,632.2 282.7,637.2 239.5,668.9 383.7,574.7 327.9,610.0 155.5,803.4 297.9,614.8 297.2,625.7 176.9,738.3 253.8,672.3 406.5,549.6 277.7,626.3 411.2,548.8 278.6,595.5 381.0,566.5 169.9,767.4 190.0,755.1 153.0,794.1 259.9,654.8 182.8,708.7 261.4,646.4 220.6,647.2 338.8,568.7 165.9,788.4 315.7,618.3 331.7,568.0 217.2,685.8 240.2,670.5 145.8,815.2 259.8,601.1 320.9,600.4 355.6,570.1 207.4,745.6 232.0,654.9 189.7,709.1 275.8,634.2 302.0,611.1 284.7,615.0 258.4,628.8 183.6,767.2 302.5,621.1 153.7,768.4 178.5,773.6 200.3,715.9 312.0,576.7 213.5,669.3 154.9,769.2 179.8,699.6 194.0,754.1 189.2,717.3 250.2,622.7 181.5,754.5 346.7,573.6 204.6,723.6 354.6,580.2 344.9,579.7 386.3,560.9 298.9,613.9 220.2,651.9 366.0,567.2 149.7,767.5 321.0,581.1 165.3,786.5 305.7,609.5 380.8,577.2 416.6,553.9 398.0,563.7 160.7,790.1 273.2,583.3 151.6,775.7 277.5,624.0 303.6,581.2 246.3,673.1 393.0,561.5 243.1,652.1 386.2,566.4 250.2,643.1 227.8,638.7 259.5,660.9 148.7,801.9 155.2,786.1 268.2,648.0 304.3,584.5 330.6,568.1 168.9,765.5 264.9,634.9 385.2,575.8 286.2,621.7 208.7,673.5 281.8,637.8 271.8,589.2 237.0,679.6 348.7,575.6 329.6,612.0 229.9,664.8 239.0,657.3 284.4,619.7 233.5,692.5 324.6,581.8 179.5,723.8 282.8,593.3 361.5,571.7 161.7,746.0 201.8,733.4 404.2,557.7 247.8,672.2 317.8,590.9 259.1,593.4 248.3,652.4 256.2,615.2 280.1,622.2 295.6,585.6 270.6,606.3 274.2,632.7 295.9,600.8 339.1,605.4 363.5,575.2 240.0,620.7 203.6,666.5 216.1,714.7 255.6,660.0 326.4,586.9 268.9,638.7 224.9,650.7 421.0,545.7 328.2,597.0 303.8,600.6 292.1,593.7 316.0,596.9 227.4,653.7 157.2,799.2 256.6,640.9 285.3,632.3 215.6,675.3 219.7,724.1 294.9,599.2 411.8,552.7 306.9,595.1 201.5,671.6 167.7,767.3 266.3,644.9 288.7,595.5 207.0,679.6 152.9,782.6 201.6,658.5 413.2,548.8 243.7,619.3 207.6,715.7 331.8,598.4 168.1,745.0 199.2,705.8 423.5,549.3 147.9,807.3 361.3,557.5 423.0,550.4 355.0,565.4 365.5,562.5 207.5,718.5 240.0,684.4 328.5,575.5 286.9,619.0 291.4,626.8 395.5,552.5 247.1,622.0 292.2,599.3 244.4,669.0 170.7,716.6 201.9,711.8 203.2,702.6 193.6,744.7 348.9,585.0 152.6,800.9 205.9,700.5 242.8,666.2 267.3,634.4 300.4,620.6 202.0,681.8 205.3,669.0 264.4,623.6 357.8,582.9 349.9,573.0 244.0,675.0 229.7,635.1 247.1,646.6 316.3,616.5 269.1,639.1 358.5,554.9 270.4,634.9 287.7,590.2 288.4,634.7 371.6,585.5 197.4,720.6 348.1,597.2 193.6,725.6 345.1,590.1 273.7,633.9 157.5,758.4 169.4,784.2 321.7,582.6 172.5,772.9 271.6,633.7 226.3,710.2 243.6,656.6 182.3,711.6 341.0,606.1 245.6,654.2 335.5,588.0 238.8,676.2 310.3,567.7 189.6,732.4 197.5,747.8 303.7,586.0 313.1,609.3 364.8,560.2 247.8,598.1 218.0,725.0 240.9,685.8 305.5,614.2 228.5,680.8 382.3,561.1 147.4,768.8 216.8,693.3 251.6,661.0 145.9,811.4 319.6,616.8 360.2,571.7 321.8,600.8 241.6,678.6 215.3,676.1 327.2,566.1 283.1,635.1 287.5,621.9 267.7,610.2 165.6,765.6 253.2,657.6 319.1,604.2 250.0,620.6 377.3,575.1 380.7,567.5 149.6,797.8 351.9,588.2 213.0,657.8 368.1,574.0 276.9,633.5 321.8,580.1 217.8,700.3 324.3,574.7 171.0,741.1 246.2,674.4 306.2,599.8 171.9,712.9 326.7,603.3 292.7,597.5 191.7,722.2 205.9,717.1 198.7,661.1 408.8,554.0 196.7,663.7 378.0,563.9 208.9,696.2 186.5,750.6 220.9,679.3 354.9,593.8 181.0,763.7 342.9,580.6 163.5,781.0 207.4,718.6 258.0,654.1 209.4,724.2 246.0,672.9 216.8,700.9 295.1,610.7 415.8,553.6 368.5,559.3 193.8,736.0 320.5,602.3 253.8,643.4 290.4,620.3 249.1,678.0 198.9,746.4 333.8,609.8 225.9,650.1 272.2,606.0 316.7,600.3 272.6,626.9 205.6,727.0 391.7,568.9 294.1,620.4 287.3,602.8 416.4,552.3 328.3,595.6 273.6,636.2 189.4,684.0 419.7,552.7 394.4,551.2 324.4,606.9 215.7,700.6 284.6,584.3 354.8,567.9 172.4,766.1 279.2,625.3 367.3,575.2 185.4,722.4 167.0,756.5 270.3,582.2 163.6,790.7 325.4,586.5 243.0,645.1 184.7,704.7 201.5,686.6 355.2,585.0 348.5,564.6 224.6,710.4 161.8,742.4 174.8,728.3 377.5,557.8 209.9,653.1 201.5,679.2 364.8,576.6 280.0,593.5 251.9,661.6 355.4,581.0 310.7,597.1 291.0,596.5 332.7,587.0 330.5,583.6 202.8,714.3 157.8,764.6 369.8,571.2 324.6,594.6 382.3,554.8 412.6,549.4 389.5,565.3 177.4,716.6 245.6,681.3 255.2,637.6 195.9,727.2 236.5,641.6 299.7,598.1 174.3,769.0 312.0,582.1 337.1,584.8 204.8,673.6 190.6,687.3 335.7,559.8 237.1,670.9 201.3,694.2 160.6,796.3 255.1,596.1 188.9,744.0 315.4,614.8 182.9,738.8 141.4,823.4 262.4,617.8 204.6,701.8 174.3,752.6 151.1,763.8 394.0,549.6 256.6,639.0 259.6,643.4 404.9,562.0 275.0,622.8 258.9,617.6 295.3,617.2 341.8,554.1 189.6,756.6 248.9,669.9 308.2,593.3 204.5,693.0 139.5,832.8 180.5,723.2 154.4,758.1 264.4,613.0 288.6,575.5 231.6,662.9 404.5,558.6 374.4,580.5 357.9,562.9 215.3,697.8 140.5,823.7 312.2,606.8 294.8,612.8 242.7,639.0 192.9,754.7 251.9,665.8 332.2,592.6 329.5,600.4 210.9,711.1 216.2,713.4 336.9,560.5 181.9,730.0 204.8,692.4 309.9,582.0 303.4,617.2 287.1,573.3 254.6,632.1 354.8,594.6 206.5,740.0 198.9,686.2 381.3,558.9 148.1,785.5 160.2,748.9 368.2,577.8 176.8,750.1 352.4,578.8 235.6,656.9 431.6,544.6 288.7,588.3 365.8,586.5 143.1,810.3 419.1,547.1 295.4,601.4 247.0,651.9 296.4,625.0 172.4,775.5 266.0,639.7 152.3,788.4 159.8,791.1 422.9,543.3 300.2,582.9 171.3,715.3 326.7,581.4 156.0,759.7 156.4,792.1 180.3,706.9 233.9,662.8 363.3,568.2 368.4,588.1 272.5,587.0 205.7,736.0 269.0,612.1 346.6,591.5 347.1,559.6 378.9,570.5 278.2,642.2 215.8,684.7 160.7,765.0 215.9,709.1 358.0,568.7 314.2,610.7 331.7,577.7 216.6,731.1 379.3,571.8 281.5,635.7 379.8,578.2 217.4,730.8 176.9,766.4 347.5,584.6 222.2,645.7 218.5,636.5 194.3,708.5 180.9,725.7 371.0,569.1 220.1,722.2 263.0,623.5 254.7,637.3 279.8,634.6 222.3,697.1 216.0,695.5 235.3,651.5 383.7,554.9 299.1,620.3 148.2,767.2 279.6,634.7 383.3,570.8 170.2,730.3 224.1,687.5 289.6,626.7 285.7,609.7 281.7,628.1 226.1,697.5 181.0,760.1 265.8,622.4 304.2,617.2 241.8,679.7 364.4,576.7 283.1,588.5 305.1,622.4 381.5,564.2 283.6,611.5 178.4,755.7 304.6,621.2 248.2,682.8 182.6,765.3 244.7,686.1 336.5,600.1 361.4,575.0 216.1,716.9 270.6,649.5 224.2,709.8 161.3,799.8 297.0,632.2 193.1,698.6 334.5,574.2 158.4,763.8 181.1,717.2 175.5,714.6 182.2,761.0 188.3,693.8 272.2,648.7 261.7,612.3 333.4,606.7 359.7,572.5 303.1,596.1 289.2,633.6 236.2,669.6 187.4,679.3 267.0,637.6 400.9,557.5 338.0,606.5 240.1,646.5 296.3,607.7 253.2,600.7 210.1,735.5 235.9,644.2 250.7,612.9 190.4,711.7 253.7,624.2 236.6,700.2 272.7,650.7 219.6,672.8 272.5,605.5 393.7,558.5 308.3,608.6 327.9,562.6 407.2,553.1 235.7,646.9 247.7,661.8 404.4,555.6 336.5,595.3 295.1,630.5 207.2,725.6 182.3,754.7 202.9,738.3 151.4,767.6 247.3,671.9 184.6,752.6 360.6,561.5 201.6,722.1 295.0,610.3 218.3,675.6 160.8,791.4 329.9,597.1 285.0,602.8 156.7,758.3 306.8,621.7 290.0,596.6 270.6,615.1 243.5,638.6 154.8,785.3 341.3,578.8 231.4,696.6 235.5,677.2 348.5,597.8 159.7,790.7 262.1,662.7 307.3,565.6 311.7,623.7 494.7,549.9 273.8,647.5 377.8,694.1 442.0,640.1 477.3,539.1 138.7,854.4 231.2,714.1 359.5,707.9 274.0,650.2 233.0,702.6 406.1,668.5 250.3,682.8 172.0,784.5 401.1,675.0 217.2,833.6 141.4,843.0 295.9,634.5 337.3,607.9 295.6,764.3 258.0,793.3 252.0,679.1 184.0,774.4 327.5,617.3 148.9,814.0 300.6,759.7 319.5,618.5 247.6,805.9 319.6,622.0 209.0,746.1 486.0,599.8 373.9,588.3 437.2,639.4 240.8,696.0 351.3,711.1 487.8,537.5 164.1,800.6 347.6,720.1 371.8,588.6 300.2,757.3 241.8,695.4 284.0,772.6 298.6,764.9 195.4,847.8 399.5,678.3 403.7,562.2 419.4,654.3 186.2,768.2 261.6,666.2 297.2,633.1 302.6,758.8 481.1,605.2 380.4,689.8 243.1,695.4 204.4,752.3 379.9,692.0 496.0,543.9 481.3,602.0 244.4,810.2 336.7,730.7 139.0,843.9 268.4,658.2 174.5,853.3 174.2,850.8 326.9,737.2 231.3,822.4 296.0,761.8 205.1,842.4 271.6,781.8 307.7,759.1 425.9,649.9 314.3,620.9 305.5,756.5 387.6,574.4 255.0,795.7 232.9,819.5 448.0,544.5 141.6,826.6 235.7,706.3 274.5,652.7 322.3,617.8 266.7,663.8 268.8,658.7 283.9,642.3 435.0,642.0 354.1,600.3 404.8,672.3 171.4,852.2 485.1,604.1 486.4,579.9 424.0,549.8 424.5,556.2 460.7,540.7 246.8,802.4 271.5,653.7 205.2,843.5 145.5,821.1 187.5,848.1 473.6,624.8 297.7,628.2 398.7,677.7 211.5,837.0 141.1,845.5 424.2,551.3 285.9,636.3 206.6,748.0 411.0,663.7 224.0,826.4 289.6,638.4 370.8,589.6 244.5,813.0 253.9,797.3 475.9,619.9 376.3,586.8 419.4,556.4 493.2,552.1 280.2,775.7 251.6,796.8 380.7,692.3 292.1,635.6 485.5,592.2 362.0,594.7 144.9,824.7 397.6,569.6 234.8,818.3 230.3,712.8 378.7,588.0 242.6,815.2 313.8,623.4 437.6,550.6 493.4,552.3 138.8,845.4 253.2,682.6 481.8,598.7 171.7,851.8 272.9,650.0 171.6,785.8 319.1,742.9 369.8,697.9 139.0,847.2 142.5,830.9 141.7,826.2 296.2,761.9 362.1,702.7 287.1,769.7 460.2,628.7 393.1,684.0 351.7,712.1 193.5,766.8 448.6,542.3 485.5,590.3 387.2,577.0 256.4,672.9 146.7,823.7 327.0,616.3 325.7,737.2 400.4,675.1 493.6,556.5 493.8,554.3 169.5,790.0 190.6,846.6 439.9,641.3 195.8,760.2 313.6,752.7 249.9,680.4 486.0,537.2 170.7,791.9 422.2,651.1 409.2,558.0 422.5,653.6 306.1,757.4 445.0,639.3 377.9,691.6 154.5,852.9 259.7,670.1 376.0,690.8 463.9,625.7 411.0,669.2 266.5,788.6 440.1,544.2 243.6,813.1 484.8,599.5 457.5,539.3 232.8,823.0 238.6,814.0 413.3,666.2 179.0,777.2 490.7,558.2 320.3,741.8 473.9,619.2 142.4,838.4 226.6,826.2 482.6,603.2 159.5,851.2 248.6,683.7 138.8,848.7 221.4,728.2 273.3,650.1 165.6,799.4 254.8,674.1 452.2,635.5 413.3,659.6 427.4,651.5 159.2,851.5 346.3,719.8 364.8,592.6 275.6,646.8 184.7,852.0 249.6,685.6 396.0,567.6 216.0,729.9 259.9,794.7 282.9,642.9 480.6,594.0 238.7,706.6 449.1,638.5 448.3,638.5 188.7,769.3 496.1,545.6 178.1,776.7 374.9,584.8 483.8,538.6 317.6,622.0 189.0,765.7 353.8,596.0 258.8,670.1 422.8,649.4 480.1,607.9 250.9,803.8 338.1,730.8 290.4,636.2 152.3,812.3 384.2,578.2 181.3,849.8 231.5,826.5 303.9,757.9 463.3,629.3 236.6,819.7 215.8,835.1 188.9,764.8 219.6,729.4 269.2,650.3 295.4,764.1 279.0,775.0 222.4,724.1 469.8,539.1 251.0,804.9 489.9,536.7 216.8,837.1 275.9,777.1 172.3,784.5 260.1,790.0 419.4,656.6 290.7,636.6 442.2,638.9 241.3,696.2 217.4,834.6 289.4,766.6 439.5,640.2 413.0,667.7 161.6,807.1 170.1,782.2 441.0,547.4 212.5,742.9 163.2,853.2 319.3,744.0 257.8,798.6 233.1,825.3 335.8,728.6 201.7,844.1 487.9,567.7 486.0,601.5 193.2,765.1 345.4,608.4 222.6,831.0 267.6,783.7 465.8,625.5 473.2,623.7 156.7,806.6 366.8,699.7 437.6,641.6 267.2,663.6 384.5,690.1 385.4,579.2 317.7,619.6 427.1,550.0 343.7,724.7 276.6,647.1 250.5,800.6 494.8,552.7 456.7,542.1 261.0,787.0 397.0,566.5 398.1,566.8 347.6,721.1 271.1,651.8 364.9,593.9 314.6,751.2 442.1,641.3 376.8,580.5 245.2,809.2 227.9,717.9 421.0,657.5 268.2,785.2 483.4,597.1 139.6,853.9 385.5,576.8 346.9,603.0 205.1,752.4 288.7,637.6 458.7,633.5 263.5,787.9 465.2,539.5 436.9,644.0 389.4,568.1 375.6,696.2 191.9,761.3 384.2,578.1 362.7,595.1 373.7,695.5 482.9,608.6 217.8,736.9 328.2,738.0 158.4,808.7 374.8,695.7 240.1,698.9 203.1,757.7 341.9,721.7 172.3,784.4 325.1,743.3 138.1,845.8 310.9,752.6 294.0,768.2 491.1,569.7 170.7,794.4 368.8,699.4 496.1,550.1 269.5,662.5 233.7,817.5 321.7,741.1 276.1,650.9 304.8,629.5 314.1,749.5 362.7,705.2 486.4,598.1 375.7,691.0 253.1,677.2 444.9,640.8 292.2,765.6 302.3,757.5 272.9,650.7 472.4,619.7 360.9,704.8 377.7,580.6 482.8,606.2 351.3,603.6 479.7,613.2 493.9,554.0 195.6,762.5 197.0,762.3 328.4,735.7 166.9,794.5 491.0,568.4 484.5,585.2 323.1,741.0 164.3,851.4 455.9,540.0 457.4,541.5 240.9,815.5 425.8,649.8 284.7,641.5 276.3,777.3 270.9,656.7 433.9,550.0 166.7,796.5 197.7,848.1 304.5,629.2 265.3,665.0 261.7,665.4 294.6,766.4 298.3,760.9 394.7,570.8 171.5,788.8 494.9,536.3 140.2,850.6 475.1,620.4 218.8,732.3 264.7,786.0 401.8,674.0 482.2,595.9 242.0,697.5 491.4,558.2 178.6,774.1 272.2,780.2 484.7,601.1 363.5,703.0 315.0,622.3 220.2,733.0 138.1,848.3 470.3,623.1 305.2,624.8 394.9,681.7 426.9,551.8 196.7,759.1 244.1,693.4 143.2,820.2 165.8,795.4 225.8,825.5 234.0,707.1 237.3,696.6 211.9,743.4 403.2,563.7 188.9,765.2 300.1,628.8 205.7,840.7 312.2,627.7 489.3,577.3 389.8,687.5 346.6,721.1 291.3,769.1 290.2,766.2 430.0,644.7 265.0,664.8 291.2,765.1 237.6,817.1 264.8,784.0 234.5,819.9 327.4,615.8 438.1,547.0 274.0,645.7 232.1,709.8 343.3,606.3 353.3,603.2 415.1,661.4 475.5,622.5 490.3,537.0 435.1,545.1 250.5,806.4 463.0,540.0 360.9,593.8 388.4,574.3 343.5,605.6 264.7,787.1 223.2,834.6 210.4,745.9 289.2,768.9 341.1,724.9 448.1,541.8 474.3,619.5 408.5,558.7 419.3,653.7 223.2,831.0 450.4,639.7 357.8,708.8 180.3,773.0 363.5,592.7 267.9,661.1 490.2,556.9 486.2,597.6 486.3,594.0 207.2,842.0 396.0,568.2 361.4,596.2 228.5,827.7 409.8,666.0 185.7,852.4 138.8,842.9 308.7,625.4 245.9,804.7 249.8,800.2 361.3,702.0 324.1,740.8 157.6,806.5 476.2,613.0 471.5,621.3 308.1,626.1 364.5,592.0 332.0,736.1 403.7,673.2 491.8,561.9 460.3,632.5 226.9,715.4 492.9,536.4 433.1,545.4 164.6,852.6 328.0,736.7 224.1,724.5 148.2,814.4 142.3,829.1 191.1,763.2 181.2,850.1 451.8,637.0 192.5,847.1 236.2,704.3 180.4,851.9 140.5,837.0 208.1,748.8 421.8,651.4 342.4,609.1 160.5,802.6 473.4,538.2 219.5,725.4 489.9,573.4 397.1,677.5 169.4,785.0 216.3,835.9 207.9,745.8 143.6,828.2 307.6,754.5 259.1,797.7 410.3,663.8 290.8,764.6 219.5,730.5 334.1,735.3 187.6,769.5 172.0,853.4 422.9,651.7 277.1,776.7 403.5,560.9 388.1,572.9 295.7,630.9 165.3,802.1 213.1,839.4 178.4,778.5 412.1,665.5 478.7,620.9 323.2,739.2 343.3,724.2 252.2,679.3 227.0,826.9 493.6,537.6 191.6,849.3 393.7,571.7 252.4,800.2 375.6,691.4 374.5,695.3 441.8,638.8 243.7,689.0 314.8,623.9 149.0,813.6 356.1,709.5 176.9,774.1 472.8,620.9 325.6,617.1 316.1,621.6 286.8,636.6 266.2,783.4 148.0,817.2 392.8,573.2 303.1,627.1 263.8,662.1 317.6,620.4 240.7,812.4 199.3,844.2 170.7,781.8 324.1,740.0 354.4,711.2 259.1,789.3 483.3,610.0 487.9,582.2 311.6,625.2 417.2,557.4 272.0,658.0 452.5,542.7 457.9,540.4 259.2,790.8 182.9,851.6 210.6,745.1 173.8,779.2 442.0,639.7 469.5,621.9 304.8,630.6 400.6,566.4 315.3,749.9 415.9,655.9 480.1,615.4 325.4,618.1 317.9,748.1 352.6,602.2 232.0,712.8 431.0,646.9 310.5,756.3 376.5,585.4 421.6,650.4 390.2,683.9 248.5,685.9 265.6,791.1 140.9,832.9 156.2,809.6 170.4,852.4 365.4,591.5 193.0,850.0 293.7,764.2 356.0,711.8 140.1,831.0 377.2,583.8 329.1,612.7 307.6,755.6 229.3,710.6 215.5,835.0 164.6,799.5 227.3,720.3 379.5,578.3 263.5,663.3 490.4,569.0 481.2,607.4 247.4,689.1 231.3,708.7 327.0,738.1 357.5,704.7 421.9,649.9 392.4,569.9 247.8,806.1 405.2,668.4 143.9,830.2 413.0,664.0 261.1,788.2 239.1,697.0 396.9,566.5 169.7,787.1 200.6,844.8 214.4,837.4 451.9,637.5 324.8,619.0 391.8,682.6 327.9,614.9 395.3,684.7 371.3,697.4 482.4,604.0 262.6,664.0 321.4,743.9 141.4,840.4 352.5,598.7 369.2,696.8 350.2,598.4 222.8,830.6 329.6,613.5 294.3,768.2 270.9,650.0 197.5,758.9 294.6,763.9 240.0,815.9 297.0,763.7 400.2,675.6 245.6,696.0 412.9,561.6 310.8,753.0 495.8,547.7 292.8,767.6 416.3,660.4 231.7,706.9 235.0,816.4 365.9,587.9 280.0,646.4 403.3,676.5 233.0,821.6 389.7,684.8 273.3,655.4 221.5,726.1 457.5,542.1 380.6,690.2 487.8,537.5 400.8,562.6 263.2,663.9 258.7,668.1 159.3,852.9 431.1,646.5 425.9,649.0 466.7,539.1 244.7,689.6 283.9,771.8 183.2,849.4 193.8,849.4 144.8,821.4 242.2,694.0 249.2,683.3 339.0,727.2 439.8,544.8 261.7,666.0 450.5,636.4 241.3,811.9 182.4,851.6 191.0,847.6 218.9,833.4 260.3,670.4 211.6,737.9 354.8,599.2 415.9,554.0 226.1,719.5 493.4,555.2 235.5,702.1 212.1,734.6 339.3,606.3 217.0,837.3 306.6,629.1 488.5,571.9 184.7,773.1 235.4,707.7 480.0,539.8 347.5,722.9 409.1,670.7 228.4,716.1 390.3,566.9 190.4,768.2 201.2,848.5 256.5,795.4 425.2,553.1 161.4,802.9 172.8,850.9 414.0,663.3 344.4,721.2 489.5,568.6 349.3,717.4 191.7,765.6 459.7,543.5 174.5,782.1 365.6,591.7 393.3,572.1 251.5,800.7 210.3,835.8 229.7,715.3 279.9,643.1 327.4,734.1 163.2,800.9 277.6,642.9 380.2,691.6 475.1,620.4 241.5,811.3 332.8,735.3 444.5,546.3 138.8,841.1 206.1,842.1 182.2,848.8 207.9,839.2 431.0,643.6 484.7,539.2 145.5,825.7 287.7,771.4 308.5,755.3 260.0,666.4 491.9,539.3 177.1,849.7 422.9,553.9 451.3,634.3 139.4,838.1 486.3,600.5 224.4,824.0 383.9,688.8 305.3,758.5 157.7,808.7 292.6,764.4 239.5,814.6 326.5,614.7 147.8,821.7 463.6,630.3 296.9,632.9 466.3,540.0 431.0,549.7 409.4,664.0 473.6,618.0 269.7,779.1 266.1,660.6 142.9,826.3 404.7,675.2 143.6,853.1 312.2,755.3 414.8,660.4 401.6,675.3 227.8,710.1 298.6,763.4 145.6,818.5 244.7,811.7 242.3,691.3 398.3,568.0 180.9,848.5 446.7,638.6 352.2,713.5 157.1,806.0 258.6,798.4 257.7,672.9 471.8,540.3 247.5,680.0 397.0,564.1 292.3,635.6 359.8,594.3 337.0,609.1 479.3,615.0 251.6,684.1 183.7,849.7 228.3,709.4 423.2,551.9 356.6,595.7 184.2,848.3 280.0,773.3 484.8,606.7 173.0,788.4 485.8,587.8 345.7,723.3 366.0,589.0 310.1,620.1 180.0,846.4 162.6,807.4 410.4,663.9 259.2,671.5 270.6,786.1 262.8,663.3 144.5,816.8 180.7,854.1 276.3,774.0 347.8,718.9 483.1,605.9 235.7,821.6 209.3,749.5 159.3,808.3 293.3,764.9 363.6,590.7 310.9,627.3 371.4,586.4 259.9,666.7 212.6,743.0 208.0,841.4 258.0,796.1 468.7,539.8 155.5,853.3 338.8,607.8 368.1,697.5 491.5,558.0 237.1,703.4 492.7,547.7 214.8,738.4 141.6,832.2 145.0,821.3 289.7,766.3 215.5,735.0 249.2,805.0 437.1,642.3 302.2,630.8 407.2,667.6 379.1,695.3 275.9,644.4 202.5,756.2 398.1,678.2 260.8,674.3 347.1,601.2 290.1,767.8 282.3,773.2 375.2,584.5 213.0,839.0 432.8,642.3 210.0,840.0 333.3,732.0 280.0,645.4 145.2,826.3 174.0,787.3 267.6,656.9 277.9,648.4 216.0,836.7 420.6,553.0 472.3,537.8 202.5,758.2 280.3,645.5 293.4,766.6 191.6,845.5 231.8,711.4 406.1,561.3 212.0,838.0 211.6,838.4 376.2,584.8 491.0,567.4 172.2,785.1 417.7,654.4 296.9,761.0 240.4,701.4 241.9,697.8 303.7,628.6 269.4,658.1 209.7,745.4 318.4,751.5 162.5,853.2 224.0,724.1 143.2,832.1 473.2,621.9 267.9,786.4 234.7,707.4 420.0,654.5 400.7,677.1 247.4,686.1 329.2,613.6 430.5,548.5 254.9,676.6 449.1,638.1 459.8,634.2 467.3,623.7 355.6,599.7 365.1,587.6 361.1,596.0 314.4,746.9 481.1,606.2 456.7,631.8 190.3,767.4 365.1,700.7 144.7,853.8 480.5,606.5 275.4,646.9 484.2,603.1 405.4,669.7 299.5,628.4 383.3,575.9 486.9,598.1 238.2,698.3 295.1,766.4 332.1,734.8 482.8,598.8 187.6,767.4 457.2,633.1 185.6,849.8 262.0,787.5 280.3,642.6 445.9,547.6 262.7,789.1 246.5,691.2 271.2,654.6 184.4,768.5 419.3,658.0 266.6,658.2 208.9,748.7 269.1,781.9 202.7,841.5 354.0,710.3 381.0,584.0 312.2,625.2 458.0,635.2 358.1,596.8 317.0,747.3 453.9,635.3 168.1,788.0 330.2,732.1 257.0,676.6 307.8,626.2 365.1,699.3 466.7,632.0 236.8,706.3 406.0,564.6 486.7,595.2 151.8,810.6 488.0,538.8 336.7,728.9 143.4,825.6 458.1,631.4 290.7,768.9 407.1,562.5 241.3,695.4 394.7,684.0 348.9,714.7 378.6,578.5 279.9,644.5 212.7,743.1 376.3,582.9 275.1,778.5 409.5,560.2 234.9,702.3 246.3,685.3 426.6,649.6 332.0,610.3 256.8,669.2 285.4,639.2 314.3,620.5 278.4,772.4 483.9,599.5 354.1,599.3 443.4,543.4 495.8,551.7 441.1,641.5 284.6,640.7 157.3,808.9 417.0,661.0 189.5,765.9 394.6,567.6 381.4,580.2 333.3,730.5 330.5,733.3 391.5,569.5 444.7,638.1 336.0,730.5 204.9,751.2 340.1,729.7 348.8,721.6 283.2,641.2 384.6,577.9 208.2,845.7 465.7,541.8 449.7,636.5 271.5,781.6 482.1,539.3 486.2,588.5 420.1,554.0 211.0,840.5 333.4,732.1 277.4,774.3 146.1,822.0 477.7,614.7 375.4,583.1 325.6,737.3 237.6,702.6 169.9,851.7 369.2,700.2 371.4,584.2 263.7,787.8 186.3,767.3 139.2,842.2 244.4,811.0 249.3,683.9 380.8,585.2 468.1,627.2 425.9,555.4 257.5,669.8 317.7,617.3 474.0,537.8 421.2,650.9 283.6,773.7 442.6,545.8 161.4,851.9 234.7,823.1 195.6,759.8 338.7,609.4 351.4,715.3 205.7,841.4 461.9,632.1 460.8,632.8 435.0,644.8 218.2,830.9 236.3,700.0 222.6,728.3 220.9,833.1 372.3,696.0 225.2,722.8 302.9,630.6 238.0,703.4"/>
<polyline class="b" points="215.2,563.8 234.2,586.8 234.2,599.8 210.2,621.5 239.0,624.5 232.0,633.2 237.8,632.0 241.5,635.8 234.0,635.8 204.0,640.5 210.2,643.5 216.5,641.8 205.2,651.0 191.0,664.2 217.8,654.2 222.8,651.8 222.8,656.8 231.5,648.0 243.5,640.0 241.5,649.2 244.0,651.8 249.0,655.5 251.5,659.2 224.0,663.0 229.0,661.8 231.5,663.0 239.0,665.5 241.5,668.0 212.8,673.0 221.5,674.2 226.5,672.5 232.8,675.5 246.5,680.5 245.2,685.5 179.5,678.5 181.5,685.5 204.0,680.5 207.8,683.5 217.0,682.5 194.0,691.2 217.8,693.0 231.5,695.5 161.5,696.8 185.2,700.5 195.2,706.0 236.0,706.0 147.8,716.8 157.8,714.2 181.5,717.5 186.5,715.5 187.8,719.2 194.0,718.5 199.0,721.8 210.2,715.5 214.0,714.2 220.2,711.2 167.0,724.2 177.8,732.5 180.2,731.0 186.5,728.0 204.0,734.2 171.5,740.5 184.0,742.5 194.0,741.2 170.2,750.5 182.8,750.5 157.8,753.0 157.0,754.0 164.5,756.5 180.2,754.0 185.2,758.5 182.0,761.5 142.0,776.5 171.0,770.8 156.5,780.2 159.0,779.0 163.5,778.5 151.5,789.0 154.0,792.8 160.2,794.0 166.0,793.2 155.2,797.8 156.0,801.5 157.8,804.0 160.2,806.5 146.5,807.2 145.2,812.2 142.0,831.5 201.0,828.5 214.0,830.2 174.5,846.5 193.2,845.8 201.0,846.5 221.0,841.5 227.8,836.5 239.0,834.5 239.8,824.8 245.2,822.0 323.2,770.8 330.8,778.2 376.5,768.5 317.8,792.2 323.2,796.5 337.0,800.2 271.5,806.5 287.2,815.2 334.8,812.2 359.5,822.2 356.8,839.5 256.5,640.5 286.5,639.2 256.5,653.0 285.8,658.5 256.5,670.5 265.8,670.5 383.5,711.2 466.5,638.0 460.2,644.8 468.5,646.8 425.2,656.8 475.2,658.8 490.2,663.5 462.2,668.5 474.5,675.5 435.8,678.0 437.8,680.5 449.5,684.5 454.8,684.5 470.2,689.8 470.2,719.5 384.0,711.8 420.8,733.0 426.5,739.2 388.5,741.2 428.5,753.5 428.5,754.0 485.2,568.2 489.0,575.8 487.8,580.8 482.8,582.0 486.5,587.0 482.8,593.2 479.0,594.5 481.5,599.5 470.2,604.5 475.2,605.2 488.5,608.2 470.2,629.5 481.5,630.8 459.0,634.5 467.8,634.5 399.5,581.2 265.0,585.6 297.1,582.5 296.5,586.9 310.9,586.2 290.9,596.2 302.1,595.6 304.0,598.8 312.1,593.8 280.9,599.4 279.0,604.4 289.6,602.5 292.8,603.8 318.4,598.8 257.1,599.4 262.1,603.8 315.2,605.6 263.4,610.6 265.9,612.5 296.5,609.4 297.8,611.9 309.0,609.4 302.1,611.2 284.0,613.1 297.8,616.2 312.8,616.2 260.2,623.8 270.9,623.1 278.4,622.5 284.6,624.4 302.1,621.2 315.2,623.1 292.1,624.4 295.9,625.6 268.4,628.8 265.2,630.0 310.9,628.1 256.5,631.9 259.6,633.1 277.1,631.9 283.4,632.5 280.2,634.4 272.1,634.4 304.0,634.4 287.1,637.5 324.6,582.5 330.9,585.6 337.8,583.8 340.9,581.2 345.2,583.8 342.8,586.2 352.1,586.2 355.9,585.6 366.5,582.5 369.0,584.4 374.6,581.2 379.0,581.9 322.1,591.9 326.5,590.0 332.8,590.6 339.0,592.5 342.8,591.9 349.0,593.8 352.8,592.5 356.5,591.9 361.5,592.5 363.4,595.0 320.2,595.6 335.9,597.5 334.6,600.0 342.8,604.4 344.6,608.1 359.0,602.5 357.1,605.0 327.8,620.6 325.2,625.6 267.1,555.8 290.0,557.0 259.0,569.5 315.9,578.2 324.6,551.8 380.9,548.9 355.9,553.2 362.1,554.8 346.5,555.8 379.6,555.8 322.1,561.8 352.8,560.1 356.5,562.0 362.8,563.9 375.2,563.2 380.2,562.0 383.4,565.1 329.6,567.6 337.8,567.6 341.5,570.8 352.8,568.2 355.2,570.8 359.0,572.0 367.1,569.5 369.0,570.1 375.9,570.8 336.5,573.2 339.6,574.5 356.5,575.8 360.2,574.5 366.5,576.4 382.1,573.9 348.4,577.6 375.9,577.0 345.2,578.9 357.8,578.9 390.2,548.2 393.4,546.4 420.9,545.1 419.0,547.6 427.1,547.6 443.4,542.6 446.5,545.8 435.2,548.2 400.2,551.4 402.8,552.0 413.4,549.5 414.0,552.0 431.5,552.0 433.4,553.2 436.5,550.8 442.1,551.4 447.8,549.5 396.5,556.4 404.6,555.1 387.1,557.6 414.0,555.8 417.8,556.4 427.1,556.4 430.2,558.2 434.6,558.2 400.2,560.1 408.4,559.5 410.9,561.4 415.2,559.5 419.6,559.5 396.5,562.6 404.0,563.2 421.5,563.2 385.2,565.1 390.2,567.6 400.9,565.1 412.1,565.1 420.2,566.4 386.5,570.1 400.2,568.9 408.4,570.1 412.1,568.9 421.5,567.6 399.6,572.0 387.8,576.4 385.2,573.2 450.2,545.8 452.1,548.9 454.6,544.5 456.5,547.0 454.6,550.1 459.6,541.4 460.9,545.1 463.4,543.2 465.9,542.0 467.8,543.9 470.9,539.5 473.4,539.5 471.5,541.4 458.4,548.2 451.5,543.2"/>
<rect x="123.5" y="522.8" width="389.1" height="346.2" fill="none" stroke="#555" stroke-width="1.2"/>
<path d="M123.5 522.8V869.0H512.6M123.5 857.5h-8.5M136.4 869.0v8M123.5 792.9h-8.5M208.9 869.0v8M123.5 728.4h-8.5M281.4 869.0v8M123.5 663.8h-8.5M353.8 869.0v8M123.5 599.3h-8.5M426.3 869.0v8M123.5 534.7h-8.5M498.8 869.0v8" fill="none" stroke="#3a3a3a" stroke-width="1.4"/>
<text class="tk" x="136.4" y="896.1" text-anchor="middle">0</text>
<text class="tk" transform="translate(106.6 857.5) rotate(-90)" text-anchor="middle">0</text>
<text class="tk" x="208.9" y="896.1" text-anchor="middle">20</text>
<text class="tk" transform="translate(106.6 792.9) rotate(-90)" text-anchor="middle">20</text>
<text class="tk" x="281.4" y="896.1" text-anchor="middle">40</text>
<text class="tk" transform="translate(106.6 728.4) rotate(-90)" text-anchor="middle">40</text>
<text class="tk" x="353.8" y="896.1" text-anchor="middle">60</text>
<text class="tk" transform="translate(106.6 663.8) rotate(-90)" text-anchor="middle">60</text>
<text class="tk" x="426.3" y="896.1" text-anchor="middle">80</text>
<text class="tk" transform="translate(106.6 599.3) rotate(-90)" text-anchor="middle">80</text>
<text class="tk" x="498.8" y="896.1" text-anchor="middle">100</text>
<text class="tk" transform="translate(106.6 534.7) rotate(-90)" text-anchor="middle">100</text>
</svg>
</body></html>
